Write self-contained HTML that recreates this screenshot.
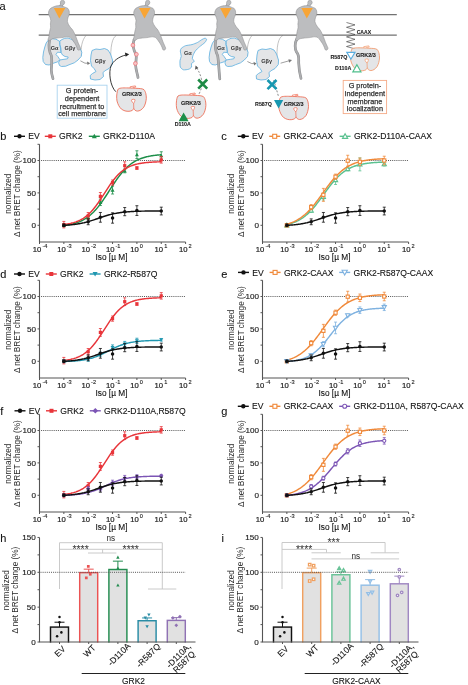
<!DOCTYPE html><html><head><meta charset="utf-8"><style>html,body{margin:0;padding:0;background:#fff;width:468px;height:685px;overflow:hidden}svg{display:block;will-change:transform;filter:blur(0.25px)}</style></head><body><svg width="468" height="685" viewBox="0 0 468 685" font-family='"Liberation Sans", sans-serif'><rect width="468" height="685" fill="#fff"/><text x="-0.4" y="9.9" font-size="11" text-anchor="start" fill="#111" stroke="#111" stroke-width="0.05" font-weight="normal" >a</text><path d="M86 35.5C82 40 80.5 48 81.2 56" fill="none" stroke="#9a9a9a" stroke-width="0.6"/><path d="M116.4 35.3C112 38 110.5 46 110.6 62" fill="none" stroke="#9a9a9a" stroke-width="0.6"/><path d="M252 35.5C248 40 246.8 48 247.4 56" fill="none" stroke="#9a9a9a" stroke-width="0.6"/><path d="M283 35.3C278 38 276.5 46 277 62" fill="none" stroke="#9a9a9a" stroke-width="0.6"/><path d="M48.7 39.6L52 38.6L56 39.2L59.9 41.5L59.5 44.5L60.5 48L61 52.5L57.5 52.2L56 54.5L57.8 56.5L59.8 59.5L57.8 61.8L54 63L49 65L45.5 64.5L43.2 61.5L42.8 57.5L43.5 52L44.8 47L46.2 43Z" fill="#e4e5e7" stroke="#5aaee0" stroke-width="0.8" stroke-linejoin="round"/><path d="M59.8 41L62 39.5L64.7 38.3L68 38L72 39.5L76 43L79.7 47.9L81.8 52.2L81.2 56.5L78 60L74.3 62.8L69 64.8L65.8 66.2L61.5 66.5L59.5 65.5L58.6 62.8L59.8 60L64 59.3L67.5 58.8L68.2 57L65 56.5L62.5 55L61.3 52.8L60.8 48L60 44.5Z" fill="#e4e5e7" stroke="#5aaee0" stroke-width="0.8" stroke-linejoin="round"/><path d="M215 39.6L218.3 38.6L222.3 39.2L226.2 41.5L225.8 44.5L226.8 48L227.3 52.5L223.8 52.2L222.3 54.5L224.1 56.5L226.1 59.5L224.1 61.8L220.3 63L215.3 65L211.8 64.5L209.5 61.5L209.1 57.5L209.8 52L211.1 47L212.5 43Z" fill="#e4e5e7" stroke="#5aaee0" stroke-width="0.8" stroke-linejoin="round"/><path d="M226.1 41L228.3 39.5L231 38.3L234.3 38L238.3 39.5L242.3 43L246 47.9L248.1 52.2L247.5 56.5L244.3 60L240.6 62.8L235.3 64.8L232.1 66.2L227.8 66.5L225.8 65.5L224.9 62.8L226.1 60L230.3 59.3L233.8 58.8L234.5 57L231.3 56.5L228.8 55L227.6 52.8L227.1 48L226.3 44.5Z" fill="#e4e5e7" stroke="#5aaee0" stroke-width="0.8" stroke-linejoin="round"/><path d="M92 50.5L96 49L100 49.5L104.5 48.5L108 50L110.5 54L112.5 60L112.3 64.5L109 68.5L104.5 71L103 72.8L103.5 76.5L100 79.5L95 80L90.5 79L90.2 75.5L92.5 73.5L96 71.5L94 68.5L91.5 66L90.5 60.5L91 55Z" fill="#e4e5e7" stroke="#5aaee0" stroke-width="0.8" stroke-linejoin="round"/><path d="M258 50.5L262 49L266 49.5L270.5 48.5L274 50L276.5 54L278.5 60L278.3 64.5L275 68.5L270.5 71L269 72.8L269.5 76.5L266 79.5L261 80L256.5 79L256.2 75.5L258.5 73.5L262 71.5L260 68.5L257.5 66L256.5 60.5L257 55Z" fill="#e4e5e7" stroke="#5aaee0" stroke-width="0.8" stroke-linejoin="round"/><path d="M180.3 51C180.32 50.04 180.78 48.82 181.4 48.2C182.02 47.58 184.36 46.12 185.6 45.7C186.84 45.28 190.62 44.97 192 44.6C193.38 44.23 196.27 43.07 197.4 42.5C198.53 41.93 200.82 40.2 201.7 39.7C202.57 39.2 204.33 38.25 204.9 38.2C205.47 38.15 206.6 38.8 206.6 39.3C206.6 39.8 205.73 41.62 204.9 42.5C204.07 43.38 200.62 45.81 199.5 46.8C198.38 47.79 196.05 50.01 195.3 51C194.55 51.99 193.44 54.42 193.1 55.3C192.76 56.17 192.27 57.79 192.4 58.5C192.53 59.21 194.32 60.8 194.2 61.4C194.08 61.99 191.7 62.95 191.4 63.6C191.1 64.25 191.9 66.35 191.6 67C191.3 67.65 189.75 68.87 188.8 69.2C187.86 69.53 184.49 70.06 183.5 69.8C182.51 69.54 180.71 68.07 180.3 67C179.89 65.93 179.9 61.84 180 60.6C180.1 59.36 181.16 57.52 181.2 56.4C181.23 55.28 180.28 51.96 180.3 51Z" fill="#e4e5e7" stroke="#5aaee0" stroke-width="0.8" stroke-linejoin="round"/><path d="M38.7 14.6H396.8M38.7 35H396.8" stroke="#727272" stroke-width="1.25"/><path d="M49.5 40.5C48.5 46 49.5 52 51.3 55.5C52.3 60 51.4 66 51.3 70C51.5 74 52.5 77 53 78.7" fill="none" stroke="#8d8e90" stroke-width="2.7" stroke-linecap="round"/><path d="M49.5 40.5C48.5 46 49.5 52 51.3 55.5C52.3 60 51.4 66 51.3 70C51.5 74 52.5 77 53 78.7" fill="none" stroke="#adaeb0" stroke-width="1.7" stroke-linecap="round"/><path d="M60.7 6.8L62.4 2.7" stroke="#8d8e90" stroke-width="3.3" stroke-linecap="round"/><circle cx="62.5" cy="2.5" r="2.2" fill="#bcbdbf" stroke="#8d8e90" stroke-width="0.5"/><path d="M60.7 6.8L62.4 2.7" stroke="#bcbdbf" stroke-width="2.4" stroke-linecap="round"/><path d="M60.2 5.6C59.23 5.55 56.93 5.77 55.9 6C54.87 6.23 53.3 6.9 52.5 7.3C51.7 7.7 50.42 8.37 49.9 9C49.38 9.63 48.76 11.27 48.6 12C48.44 12.73 48.53 13.82 48.7 14.5C48.87 15.18 49.62 16.3 49.9 17.1C50.18 17.9 50.73 19.59 50.8 20.5C50.87 21.41 50.43 22.98 50.4 23.9C50.37 24.82 50.71 26.36 50.6 27.4C50.49 28.44 49.83 30.49 49.6 31.7C49.37 32.91 49.11 35.39 48.9 36.5C48.69 37.61 47.88 39.45 48 40C48.12 40.55 49.23 40.76 49.8 40.6C50.37 40.44 51.33 39.15 52.3 38.8C53.27 38.45 55.82 38.16 57.1 38C58.38 37.84 60.55 37.76 61.9 37.6C63.25 37.44 66.07 36.8 67.2 36.8C68.33 36.8 69.65 37.12 70.4 37.6C71.15 38.08 72.17 39.57 72.8 40.4C73.43 41.23 74.57 42.89 75.1 43.8C75.63 44.71 76.47 46.43 76.8 47.2C77.13 47.97 77.25 49.21 77.6 49.6C77.95 49.99 79.01 50.27 79.4 50.1C79.79 49.93 80.45 48.79 80.5 48.3C80.55 47.81 80.12 47.16 79.8 46.4C79.48 45.64 78.65 43.96 78.1 42.6C77.55 41.24 76.38 37.81 75.7 36.2C75.02 34.59 73.68 31.65 73 30.5C72.32 29.35 71.17 28.36 70.6 27.6C70.03 26.84 69.13 25.63 68.7 24.8C68.27 23.97 67.51 22.32 67.4 21.4C67.29 20.48 67.66 18.82 67.9 17.9C68.14 16.98 69.03 15.41 69.2 14.5C69.37 13.59 69.37 11.9 69.2 11.1C69.03 10.3 68.3 8.95 67.9 8.5C67.5 8.05 66.83 7.98 66.2 7.7C65.57 7.42 64 6.68 63.2 6.4C62.4 6.12 61.17 5.65 60.2 5.6Z" fill="#bcbdbf" stroke="#8d8e90" stroke-width="0.55" stroke-linejoin="round"/><path d="M53.8 8.1L65.3 8.1L59.3 18.4Z" fill="#f8a535"/><path d="M134 40C132.2 45 133.5 50 136 54.5C137 58 135.8 61 135.6 65C135.8 70 137.5 74 138 77.5" fill="none" stroke="#8d8e90" stroke-width="2.7" stroke-linecap="round"/><path d="M134 40C132.2 45 133.5 50 136 54.5C137 58 135.8 61 135.6 65C135.8 70 137.5 74 138 77.5" fill="none" stroke="#adaeb0" stroke-width="1.7" stroke-linecap="round"/><path d="M145.9 6.8L147.6 2.7" stroke="#8d8e90" stroke-width="3.3" stroke-linecap="round"/><circle cx="147.7" cy="2.5" r="2.2" fill="#bcbdbf" stroke="#8d8e90" stroke-width="0.5"/><path d="M145.9 6.8L147.6 2.7" stroke="#bcbdbf" stroke-width="2.4" stroke-linecap="round"/><path d="M145.4 5.6C144.43 5.55 142.13 5.77 141.1 6C140.07 6.23 138.5 6.9 137.7 7.3C136.9 7.7 135.62 8.37 135.1 9C134.58 9.63 133.96 11.27 133.8 12C133.64 12.73 133.73 13.82 133.9 14.5C134.07 15.18 134.82 16.3 135.1 17.1C135.38 17.9 135.93 19.59 136 20.5C136.07 21.41 135.63 22.98 135.6 23.9C135.57 24.82 135.91 26.36 135.8 27.4C135.69 28.44 135.03 30.49 134.8 31.7C134.57 32.91 134.31 35.39 134.1 36.5C133.89 37.61 133.08 39.45 133.2 40C133.32 40.55 134.43 40.76 135 40.6C135.57 40.44 136.53 39.15 137.5 38.8C138.47 38.45 141.02 38.16 142.3 38C143.58 37.84 145.75 37.76 147.1 37.6C148.45 37.44 151.27 36.8 152.4 36.8C153.53 36.8 154.85 37.12 155.6 37.6C156.35 38.08 157.37 39.57 158 40.4C158.63 41.23 159.77 42.89 160.3 43.8C160.83 44.71 161.67 46.43 162 47.2C162.33 47.97 162.45 49.21 162.8 49.6C163.15 49.99 164.21 50.27 164.6 50.1C164.99 49.93 165.65 48.79 165.7 48.3C165.75 47.81 165.32 47.16 165 46.4C164.68 45.64 163.85 43.96 163.3 42.6C162.75 41.24 161.58 37.81 160.9 36.2C160.22 34.59 158.88 31.65 158.2 30.5C157.52 29.35 156.37 28.36 155.8 27.6C155.23 26.84 154.33 25.63 153.9 24.8C153.47 23.97 152.71 22.32 152.6 21.4C152.49 20.48 152.86 18.82 153.1 17.9C153.34 16.98 154.23 15.41 154.4 14.5C154.57 13.59 154.57 11.9 154.4 11.1C154.23 10.3 153.5 8.95 153.1 8.5C152.7 8.05 152.03 7.98 151.4 7.7C150.77 7.42 149.2 6.68 148.4 6.4C147.6 6.12 146.37 5.65 145.4 5.6Z" fill="#bcbdbf" stroke="#8d8e90" stroke-width="0.55" stroke-linejoin="round"/><path d="M139 8.1L150.5 8.1L144.5 18.4Z" fill="#f8a535"/><path d="M215.8 40.5C214.8 46 215.8 52 217.6 55.5C218.6 60 219 72 219.8 78.8" fill="none" stroke="#8d8e90" stroke-width="2.7" stroke-linecap="round"/><path d="M215.8 40.5C214.8 46 215.8 52 217.6 55.5C218.6 60 219 72 219.8 78.8" fill="none" stroke="#adaeb0" stroke-width="1.7" stroke-linecap="round"/><path d="M227 6.8L228.7 2.7" stroke="#8d8e90" stroke-width="3.3" stroke-linecap="round"/><circle cx="228.8" cy="2.5" r="2.2" fill="#bcbdbf" stroke="#8d8e90" stroke-width="0.5"/><path d="M227 6.8L228.7 2.7" stroke="#bcbdbf" stroke-width="2.4" stroke-linecap="round"/><path d="M226.5 5.6C225.53 5.55 223.23 5.77 222.2 6C221.17 6.23 219.6 6.9 218.8 7.3C218 7.7 216.72 8.37 216.2 9C215.68 9.63 215.06 11.27 214.9 12C214.74 12.73 214.83 13.82 215 14.5C215.17 15.18 215.92 16.3 216.2 17.1C216.48 17.9 217.03 19.59 217.1 20.5C217.17 21.41 216.73 22.98 216.7 23.9C216.67 24.82 217.01 26.36 216.9 27.4C216.79 28.44 216.13 30.49 215.9 31.7C215.67 32.91 215.41 35.39 215.2 36.5C214.99 37.61 214.18 39.45 214.3 40C214.42 40.55 215.53 40.76 216.1 40.6C216.67 40.44 217.63 39.15 218.6 38.8C219.57 38.45 222.12 38.16 223.4 38C224.68 37.84 226.85 37.76 228.2 37.6C229.55 37.44 232.37 36.8 233.5 36.8C234.63 36.8 235.95 37.12 236.7 37.6C237.45 38.08 238.47 39.57 239.1 40.4C239.73 41.23 240.87 42.89 241.4 43.8C241.93 44.71 242.77 46.43 243.1 47.2C243.43 47.97 243.55 49.21 243.9 49.6C244.25 49.99 245.31 50.27 245.7 50.1C246.09 49.93 246.75 48.79 246.8 48.3C246.85 47.81 246.42 47.16 246.1 46.4C245.78 45.64 244.95 43.96 244.4 42.6C243.85 41.24 242.68 37.81 242 36.2C241.32 34.59 239.98 31.65 239.3 30.5C238.62 29.35 237.47 28.36 236.9 27.6C236.33 26.84 235.43 25.63 235 24.8C234.57 23.97 233.81 22.32 233.7 21.4C233.59 20.48 233.96 18.82 234.2 17.9C234.44 16.98 235.33 15.41 235.5 14.5C235.67 13.59 235.67 11.9 235.5 11.1C235.33 10.3 234.6 8.95 234.2 8.5C233.8 8.05 233.13 7.98 232.5 7.7C231.87 7.42 230.3 6.68 229.5 6.4C228.7 6.12 227.47 5.65 226.5 5.6Z" fill="#bcbdbf" stroke="#8d8e90" stroke-width="0.55" stroke-linejoin="round"/><path d="M220.1 8.1L231.6 8.1L225.6 18.4Z" fill="#f8a535"/><path d="M296.6 39.5C294.6 43 294.8 49 296.5 52C299.5 55 298.6 59 298.7 63C298.9 69 299.8 74 301 78.4" fill="none" stroke="#8d8e90" stroke-width="2.7" stroke-linecap="round"/><path d="M296.6 39.5C294.6 43 294.8 49 296.5 52C299.5 55 298.6 59 298.7 63C298.9 69 299.8 74 301 78.4" fill="none" stroke="#adaeb0" stroke-width="1.7" stroke-linecap="round"/><path d="M308.2 6.8L309.9 2.7" stroke="#8d8e90" stroke-width="3.3" stroke-linecap="round"/><circle cx="310" cy="2.5" r="2.2" fill="#bcbdbf" stroke="#8d8e90" stroke-width="0.5"/><path d="M308.2 6.8L309.9 2.7" stroke="#bcbdbf" stroke-width="2.4" stroke-linecap="round"/><path d="M307.7 5.6C306.73 5.55 304.43 5.77 303.4 6C302.37 6.23 300.8 6.9 300 7.3C299.2 7.7 297.92 8.37 297.4 9C296.88 9.63 296.26 11.27 296.1 12C295.94 12.73 296.03 13.82 296.2 14.5C296.37 15.18 297.12 16.3 297.4 17.1C297.68 17.9 298.23 19.59 298.3 20.5C298.37 21.41 297.93 22.98 297.9 23.9C297.87 24.82 298.21 26.36 298.1 27.4C297.99 28.44 297.33 30.49 297.1 31.7C296.87 32.91 296.61 35.39 296.4 36.5C296.19 37.61 295.38 39.45 295.5 40C295.62 40.55 296.73 40.76 297.3 40.6C297.87 40.44 298.83 39.15 299.8 38.8C300.77 38.45 303.32 38.16 304.6 38C305.88 37.84 308.05 37.76 309.4 37.6C310.75 37.44 313.57 36.8 314.7 36.8C315.83 36.8 317.15 37.12 317.9 37.6C318.65 38.08 319.67 39.57 320.3 40.4C320.93 41.23 322.07 42.89 322.6 43.8C323.13 44.71 323.97 46.43 324.3 47.2C324.63 47.97 324.75 49.21 325.1 49.6C325.45 49.99 326.51 50.27 326.9 50.1C327.29 49.93 327.95 48.79 328 48.3C328.05 47.81 327.62 47.16 327.3 46.4C326.98 45.64 326.15 43.96 325.6 42.6C325.05 41.24 323.88 37.81 323.2 36.2C322.52 34.59 321.18 31.65 320.5 30.5C319.82 29.35 318.67 28.36 318.1 27.6C317.53 26.84 316.63 25.63 316.2 24.8C315.77 23.97 315.01 22.32 314.9 21.4C314.79 20.48 315.16 18.82 315.4 17.9C315.64 16.98 316.53 15.41 316.7 14.5C316.87 13.59 316.87 11.9 316.7 11.1C316.53 10.3 315.8 8.95 315.4 8.5C315 8.05 314.33 7.98 313.7 7.7C313.07 7.42 311.5 6.68 310.7 6.4C309.9 6.12 308.67 5.65 307.7 5.6Z" fill="#bcbdbf" stroke="#8d8e90" stroke-width="0.55" stroke-linejoin="round"/><path d="M301.3 8.1L312.8 8.1L306.8 18.4Z" fill="#f8a535"/><circle cx="132.9" cy="45.2" r="1.9" fill="#f7c5c5" stroke="#ee6f75" stroke-width="0.7"/><circle cx="136.4" cy="54.3" r="1.9" fill="#f7c5c5" stroke="#ee6f75" stroke-width="0.7"/><circle cx="135.4" cy="63.5" r="1.9" fill="#f7c5c5" stroke="#ee6f75" stroke-width="0.7"/><text x="54.6" y="49.9" font-size="5.6" text-anchor="middle" fill="#333" stroke="#333" stroke-width="0" font-weight="bold" >G&#945;</text><text x="70" y="49.9" font-size="5.6" text-anchor="middle" fill="#333" stroke="#333" stroke-width="0" font-weight="bold" >G&#946;&#947;</text><text x="220.9" y="49.9" font-size="5.6" text-anchor="middle" fill="#333" stroke="#333" stroke-width="0" font-weight="bold" >G&#945;</text><text x="236.3" y="49.9" font-size="5.6" text-anchor="middle" fill="#333" stroke="#333" stroke-width="0" font-weight="bold" >G&#946;&#947;</text><text x="100.2" y="62.8" font-size="5.6" text-anchor="middle" fill="#333" stroke="#333" stroke-width="0" font-weight="bold" >G&#946;&#947;</text><text x="266.7" y="62.6" font-size="5.6" text-anchor="middle" fill="#333" stroke="#333" stroke-width="0" font-weight="bold" >G&#946;&#947;</text><text x="187.8" y="55.2" font-size="5.6" text-anchor="middle" fill="#333" stroke="#333" stroke-width="0" font-weight="bold" >G&#945;</text><path d="M80.4 60.8Q84.95 64.3 89.5 63.3" fill="none" stroke="#777" stroke-width="0.7"/><path d="M90 63.3l-3 -1.8l0.6 3.6z" fill="#777"/><path d="M247.4 61.5Q251.7 64.6 256 63.6" fill="none" stroke="#777" stroke-width="0.7"/><path d="M256.5 63.6l-3 -1.8l0.6 3.6z" fill="#777"/><path d="M280.6 63.2L289 60.8" fill="none" stroke="#777" stroke-width="0.7"/><path d="M292 60l-3.6 -0.8l0.8 3.6z" fill="#777"/><path d="M115.8 91.7C110 86 108.5 72 111 66C113 61 119 56.5 126 55" fill="none" stroke="#222" stroke-width="0.9"/><path d="M129.2 54.2l-4.3 -1.6l0.8 4.2z" fill="#222"/><path d="M118.4 88.9C119 88.4 120.35 88.14 121.5 88C122.65 87.86 125.27 87.9 126.5 87.9C127.73 87.9 128.92 87.94 130.2 88C131.47 88.06 134.04 88.22 135.5 88.3C136.96 88.38 139.3 88.4 140.5 88.6C141.7 88.8 143.25 89.01 144 89.7C144.75 90.39 145.47 92.28 145.8 93.5C146.13 94.72 146.34 96.95 146.3 98.3C146.26 99.65 145.85 101.75 145.5 103C145.15 104.25 144.48 106.09 143.8 107.1C143.12 108.11 141.59 109.53 140.7 110.1C139.81 110.67 138.29 111.07 137.5 111.1C136.71 111.13 135.62 110.67 135.1 110.3C134.58 109.93 134.2 108.49 133.8 108.5C133.4 108.51 132.98 110 132.3 110.4C131.62 110.8 130.03 111.23 129 111.3C127.97 111.37 126.09 111.23 125 110.9C123.91 110.57 122.19 109.77 121.3 109C120.41 108.23 119.31 106.63 118.7 105.5C118.09 104.37 117.28 102.35 117 101C116.72 99.65 116.66 97.35 116.7 96C116.74 94.65 117.06 92.51 117.3 91.5C117.54 90.49 117.81 89.4 118.4 88.9Z" fill="#e4e5e7" stroke="#ef6a52" stroke-width="0.85" stroke-linejoin="round"/><path d="M133.6 103.5C132 102 130.9 100.1 131.8 99.6C132.7 99.2 134.1 99.1 134.8 99.5C135.4 100.1 134.5 102 133.6 103.5Z" fill="#fff" stroke="#ef6a52" stroke-width="0.7" stroke-linejoin="round"/><path d="M133.6 103.5L133.8 108.7" stroke="#ef6a52" stroke-width="0.7"/><path d="M130.2 87.9L130.2 86.7L135.4 85.9L135.8 87.1L132.7 87.5" fill="none" stroke="#ef6a52" stroke-width="0.7" stroke-linejoin="round"/><path d="M178 96C178.59 95.5 179.95 95.24 181.1 95.1C182.25 94.96 184.87 95 186.1 95C187.33 95 188.52 95.04 189.8 95.1C191.07 95.16 193.64 95.31 195.1 95.4C196.56 95.48 198.9 95.5 200.1 95.7C201.3 95.9 202.85 96.11 203.6 96.8C204.35 97.49 205.07 99.38 205.4 100.6C205.73 101.82 205.94 104.05 205.9 105.4C205.86 106.75 205.45 108.85 205.1 110.1C204.75 111.35 204.08 113.19 203.4 114.2C202.72 115.21 201.19 116.63 200.3 117.2C199.41 117.77 197.89 118.17 197.1 118.2C196.31 118.23 195.22 117.77 194.7 117.4C194.18 117.03 193.8 115.59 193.4 115.6C193 115.61 192.58 117.1 191.9 117.5C191.22 117.9 189.63 118.33 188.6 118.4C187.57 118.47 185.69 118.33 184.6 118C183.51 117.67 181.79 116.86 180.9 116.1C180.01 115.33 178.91 113.73 178.3 112.6C177.69 111.47 176.88 109.45 176.6 108.1C176.32 106.75 176.26 104.45 176.3 103.1C176.34 101.75 176.66 99.61 176.9 98.6C177.14 97.59 177.41 96.5 178 96Z" fill="#e4e5e7" stroke="#ef6a52" stroke-width="0.85" stroke-linejoin="round"/><path d="M193.2 110.6C191.6 109.1 190.5 107.2 191.4 106.7C192.3 106.3 193.7 106.2 194.4 106.6C195 107.2 194.1 109.1 193.2 110.6Z" fill="#fff" stroke="#ef6a52" stroke-width="0.7" stroke-linejoin="round"/><path d="M193.2 110.6L193.4 115.8" stroke="#ef6a52" stroke-width="0.7"/><path d="M189.8 95L189.8 93.8L195 93L195.4 94.2L192.3 94.6" fill="none" stroke="#ef6a52" stroke-width="0.7" stroke-linejoin="round"/><path d="M280.6 97.3C281.19 96.8 282.55 96.54 283.7 96.4C284.85 96.26 287.47 96.3 288.7 96.3C289.93 96.3 291.12 96.34 292.4 96.4C293.67 96.46 296.24 96.62 297.7 96.7C299.16 96.78 301.5 96.8 302.7 97C303.9 97.2 305.45 97.41 306.2 98.1C306.95 98.79 307.67 100.68 308 101.9C308.33 103.12 308.54 105.35 308.5 106.7C308.46 108.05 308.05 110.15 307.7 111.4C307.35 112.65 306.68 114.49 306 115.5C305.32 116.51 303.79 117.93 302.9 118.5C302.01 119.07 300.49 119.47 299.7 119.5C298.91 119.53 297.82 119.07 297.3 118.7C296.78 118.33 296.4 116.89 296 116.9C295.6 116.91 295.18 118.4 294.5 118.8C293.82 119.2 292.23 119.63 291.2 119.7C290.17 119.77 288.29 119.63 287.2 119.3C286.11 118.97 284.39 118.17 283.5 117.4C282.61 116.64 281.51 115.03 280.9 113.9C280.29 112.77 279.48 110.75 279.2 109.4C278.92 108.05 278.86 105.75 278.9 104.4C278.94 103.05 279.26 100.91 279.5 99.9C279.74 98.89 280 97.8 280.6 97.3Z" fill="#e4e5e7" stroke="#ef6a52" stroke-width="0.85" stroke-linejoin="round"/><path d="M295.8 111.9C294.2 110.4 293.1 108.5 294 108C294.9 107.6 296.3 107.5 297 107.9C297.6 108.5 296.7 110.4 295.8 111.9Z" fill="#fff" stroke="#ef6a52" stroke-width="0.7" stroke-linejoin="round"/><path d="M295.8 111.9L296 117.1" stroke="#ef6a52" stroke-width="0.7"/><path d="M292.4 96.3L292.4 95.1L297.6 94.3L298 95.5L294.9 95.9" fill="none" stroke="#ef6a52" stroke-width="0.7" stroke-linejoin="round"/><path d="M346.5 22.5L355 24.9L346.5 27.3L355 29.7L346.5 32.1L355 34.5L346.5 36.9L355 39.3L346.5 41.7L355 44.1L346.5 46.5L355 48.9" fill="none" stroke="#333" stroke-width="0.6"/><path d="M352.16 48.81C352.75 48.33 354.08 48.07 355.2 47.93C356.32 47.79 358.89 47.83 360.1 47.83C361.31 47.83 362.48 47.87 363.73 47.93C364.98 47.99 367.49 48.14 368.92 48.22C370.35 48.31 372.64 48.32 373.82 48.52C375 48.71 376.51 48.92 377.25 49.6C377.99 50.28 378.69 52.13 379.01 53.32C379.33 54.51 379.55 56.71 379.5 58.02C379.46 59.34 379.07 61.41 378.72 62.63C378.37 63.85 377.72 65.66 377.05 66.65C376.39 67.63 374.89 69.03 374.02 69.59C373.14 70.14 371.66 70.54 370.88 70.57C370.1 70.6 369.04 70.14 368.53 69.78C368.01 69.42 367.64 68.01 367.25 68.02C366.87 68.03 366.45 69.49 365.78 69.88C365.12 70.27 363.56 70.69 362.55 70.76C361.54 70.83 359.7 70.69 358.63 70.37C357.56 70.05 355.88 69.26 355 68.51C354.13 67.76 353.05 66.19 352.46 65.08C351.86 63.97 351.07 61.99 350.79 60.67C350.51 59.35 350.45 57.09 350.5 55.77C350.54 54.45 350.85 52.35 351.08 51.36C351.32 50.37 351.58 49.3 352.16 48.81Z" fill="#e4e5e7" stroke="#f2986a" stroke-width="0.85" stroke-linejoin="round"/><path d="M367.06 63.12C365.49 61.65 364.41 59.79 365.29 59.3C366.18 58.91 367.55 58.81 368.23 59.2C368.82 59.79 367.94 61.65 367.06 63.12Z" fill="#fff" stroke="#f2986a" stroke-width="0.7" stroke-linejoin="round"/><path d="M367.06 63.12L367.25 68.22" stroke="#f2986a" stroke-width="0.7"/><path d="M363.73 47.83L363.73 46.66L368.82 45.87L369.21 47.05L366.18 47.44" fill="none" stroke="#f2986a" stroke-width="0.7" stroke-linejoin="round"/><path d="M199.1 93.8Q203 86 201.7 80Q200 73 196.8 68" fill="none" stroke="#555" stroke-width="0.7" stroke-dasharray="2 1.6"/><path d="M195.6 65.6l-0.6 4.2l3.4 -1.8z" fill="#555"/><path d="M273.8 80L278.5 96.5" fill="none" stroke="#555" stroke-width="0.7" stroke-dasharray="2 1.6"/><path d="M198.2 79.5L207.2 88.6M207.2 79.5L198.2 88.6" stroke="#1d8a45" stroke-width="2.6"/><path d="M267.5 80L276.5 89.2M276.5 80L267.5 89.2" stroke="#1797b0" stroke-width="2.6"/><path d="M183.6 112.6L188.6 121.2L178.6 121.2Z" fill="#1e8f4a"/><text x="182.8" y="126.3" font-size="5.3" text-anchor="middle" fill="#222" stroke="#222" stroke-width="0.1" font-weight="bold" >D110A</text><path d="M274 99.9L283.2 99.9L278.6 108.4Z" fill="#1797b0"/><text x="263.5" y="106.4" font-size="5.3" text-anchor="middle" fill="#222" stroke="#222" stroke-width="0.1" font-weight="bold" >R587Q</text><path d="M346.8 52.4L355 52.4L350.9 59.2Z" fill="#fff" stroke="#5aaee0" stroke-width="1.2"/><text x="338.9" y="58.9" font-size="5.3" text-anchor="middle" fill="#222" stroke="#222" stroke-width="0.1" font-weight="bold" >R587Q</text><path d="M356.9 64.8L360.9 71.8L352.9 71.8Z" fill="#fff" stroke="#4fbf8c" stroke-width="1.2"/><text x="343.2" y="69.7" font-size="5.3" text-anchor="middle" fill="#222" stroke="#222" stroke-width="0.1" font-weight="bold" >D110A</text><text x="363.9" y="33.9" font-size="5.1" text-anchor="middle" fill="#222" stroke="#222" stroke-width="0.1" font-weight="bold" >CAAX</text><text x="132" y="96.3" font-size="5.5" text-anchor="middle" fill="#222" stroke="#222" stroke-width="0.1" font-weight="bold" >GRK2/3</text><text x="191" y="105.4" font-size="5.5" text-anchor="middle" fill="#222" stroke="#222" stroke-width="0.1" font-weight="bold" >GRK2/3</text><text x="293.6" y="105.8" font-size="5.5" text-anchor="middle" fill="#222" stroke="#222" stroke-width="0.1" font-weight="bold" >GRK2/3</text><text x="365.9" y="57.2" font-size="5.5" text-anchor="middle" fill="#222" stroke="#222" stroke-width="0.1" font-weight="bold" >GRK2/3</text><rect x="57.2" y="85.2" width="49.8" height="33" fill="#fff" stroke="#a9d3ef" stroke-width="0.9"/><text x="82.1" y="93.1" font-size="7.3" text-anchor="middle" fill="#333" stroke="#333" stroke-width="0.25" font-weight="normal" >G protein-</text><text x="82.1" y="100.85" font-size="7.3" text-anchor="middle" fill="#333" stroke="#333" stroke-width="0.25" font-weight="normal" >dependent</text><text x="82.1" y="108.6" font-size="7.3" text-anchor="middle" fill="#333" stroke="#333" stroke-width="0.25" font-weight="normal" >recruitment to</text><text x="82.1" y="116.35" font-size="7.3" text-anchor="middle" fill="#333" stroke="#333" stroke-width="0.25" font-weight="normal" >cell membrane</text><rect x="343.2" y="80.4" width="43.4" height="33.2" fill="#fff" stroke="#f5ab88" stroke-width="0.9"/><text x="364.9" y="88" font-size="7.3" text-anchor="middle" fill="#333" stroke="#333" stroke-width="0.25" font-weight="normal" >G protein-</text><text x="364.9" y="95.8" font-size="7.3" text-anchor="middle" fill="#333" stroke="#333" stroke-width="0.25" font-weight="normal" >independent</text><text x="364.9" y="103.6" font-size="7.3" text-anchor="middle" fill="#333" stroke="#333" stroke-width="0.25" font-weight="normal" >membrane</text><text x="364.9" y="111.4" font-size="7.3" text-anchor="middle" fill="#333" stroke="#333" stroke-width="0.25" font-weight="normal" >localization</text><text x="0.2" y="140.4" font-size="11" text-anchor="start" fill="#111" stroke="#111" stroke-width="0.1" font-weight="normal" >b</text><path d="M39.5 144.3V242H185.6" fill="none" stroke="#555" stroke-width="1.1"/><path d="M37.5 144.3H39.5" stroke="#555" stroke-width="1"/><path d="M37.5 160.5H39.5" stroke="#555" stroke-width="1"/><path d="M37.5 176.7H39.5" stroke="#555" stroke-width="1"/><path d="M37.5 192.9H39.5" stroke="#555" stroke-width="1"/><path d="M37.5 209.1H39.5" stroke="#555" stroke-width="1"/><path d="M37.5 225.3H39.5" stroke="#555" stroke-width="1"/><text x="36.1" y="163.4" font-size="8.1" text-anchor="end" fill="#222" stroke="#222" stroke-width="0.15" font-weight="normal" >100</text><text x="36.1" y="195.8" font-size="8.1" text-anchor="end" fill="#222" stroke="#222" stroke-width="0.15" font-weight="normal" >50</text><text x="36.1" y="228.2" font-size="8.1" text-anchor="end" fill="#222" stroke="#222" stroke-width="0.15" font-weight="normal" >0</text><path d="M39.5 242V244" stroke="#555" stroke-width="1"/><text x="41.4" y="251.7" font-size="7.7" fill="#222" stroke="#222" stroke-width="0.2" text-anchor="end">10</text><text x="42.4" y="248.4" font-size="5.6" fill="#222" stroke="#222" stroke-width="0.12">-4</text><path d="M63.85 242V244" stroke="#555" stroke-width="1"/><text x="65.75" y="251.7" font-size="7.7" fill="#222" stroke="#222" stroke-width="0.2" text-anchor="end">10</text><text x="66.75" y="248.4" font-size="5.6" fill="#222" stroke="#222" stroke-width="0.12">-3</text><path d="M88.2 242V244" stroke="#555" stroke-width="1"/><text x="90.1" y="251.7" font-size="7.7" fill="#222" stroke="#222" stroke-width="0.2" text-anchor="end">10</text><text x="91.1" y="248.4" font-size="5.6" fill="#222" stroke="#222" stroke-width="0.12">-2</text><path d="M112.55 242V244" stroke="#555" stroke-width="1"/><text x="114.45" y="251.7" font-size="7.7" fill="#222" stroke="#222" stroke-width="0.2" text-anchor="end">10</text><text x="115.45" y="248.4" font-size="5.6" fill="#222" stroke="#222" stroke-width="0.12">-1</text><path d="M136.9 242V244" stroke="#555" stroke-width="1"/><text x="138.8" y="251.7" font-size="7.7" fill="#222" stroke="#222" stroke-width="0.2" text-anchor="end">10</text><text x="139.8" y="248.4" font-size="5.6" fill="#222" stroke="#222" stroke-width="0.12">0</text><path d="M161.25 242V244" stroke="#555" stroke-width="1"/><text x="163.15" y="251.7" font-size="7.7" fill="#222" stroke="#222" stroke-width="0.2" text-anchor="end">10</text><text x="164.15" y="248.4" font-size="5.6" fill="#222" stroke="#222" stroke-width="0.12">1</text><path d="M185.6 242V244" stroke="#555" stroke-width="1"/><text x="187.5" y="251.7" font-size="7.7" fill="#222" stroke="#222" stroke-width="0.2" text-anchor="end">10</text><text x="188.5" y="248.4" font-size="5.6" fill="#222" stroke="#222" stroke-width="0.12">2</text><text x="111.5" y="259.5" font-size="8.3" text-anchor="middle" fill="#111" stroke="#111" stroke-width="0.1" font-weight="normal" >Iso [&#181; M]</text><text transform="translate(11.2 193.7) rotate(-90)" font-size="8.2" text-anchor="middle" fill="#2a2a2a">normalized</text><text transform="translate(20.4 193.7) rotate(-90)" font-size="8.2" text-anchor="middle" fill="#2a2a2a">&#916; net BRET change (%)</text><path d="M41.1 160.5H185.6" stroke="#555" stroke-width="1" stroke-dasharray="1 1.1"/><path d="M63.85 225.52L64.66 225.42L65.47 225.31L66.28 225.19L67.1 225.07L67.91 224.93L68.72 224.79L69.53 224.64L70.34 224.48L71.16 224.3L71.97 224.12L72.78 223.92L73.59 223.71L74.4 223.49L75.21 223.25L76.03 223L76.84 222.73L77.65 222.45L78.46 222.14L79.27 221.82L80.08 221.48L80.9 221.12L81.71 220.73L82.52 220.33L83.33 219.9L84.14 219.44L84.95 218.96L85.77 218.45L86.58 217.92L87.39 217.35L88.2 216.76L89.01 216.14L89.82 215.48L90.64 214.79L91.45 214.07L92.26 213.32L93.07 212.54L93.88 211.72L94.69 210.86L95.5 209.98L96.32 209.06L97.13 208.1L97.94 207.12L98.75 206.1L99.56 205.05L100.38 203.98L101.19 202.87L102 201.74L102.81 200.58L103.62 199.41L104.43 198.21L105.25 196.99L106.06 195.76L106.87 194.51L107.68 193.26L108.49 192L109.3 190.73L110.11 189.47L110.93 188.21L111.74 186.95L112.55 185.7L113.36 184.46L114.17 183.24L114.99 182.03L115.8 180.84L116.61 179.67L117.42 178.53L118.23 177.41L119.04 176.32L119.86 175.25L120.67 174.22L121.48 173.22L122.29 172.25L123.1 171.31L123.91 170.41L124.73 169.54L125.54 168.71L126.35 167.9L127.16 167.13L127.97 166.4L128.78 165.7L129.6 165.02L130.41 164.39L131.22 163.78L132.03 163.2L132.84 162.65L133.65 162.13L134.47 161.63L135.28 161.16L136.09 160.72L136.9 160.3L137.71 159.91L138.52 159.53L139.33 159.18L140.15 158.85L140.96 158.54L141.77 158.24L142.58 157.97L143.39 157.71L144.2 157.46L145.02 157.23L145.83 157.02L146.64 156.81L147.45 156.62L148.26 156.44L149.07 156.28L149.89 156.12L150.7 155.97L151.51 155.84L152.32 155.71L153.13 155.59L153.94 155.47L154.76 155.37L155.57 155.27L156.38 155.18L157.19 155.09L158 155.01L158.81 154.93L159.63 154.86L160.44 154.8L161.25 154.73" fill="none" stroke="#1e8f4a" stroke-width="1.45"/><path d="M63.85 224V226.6M62.35 224H65.35M62.35 226.6H65.35" stroke="#1e8f4a" stroke-width="0.8" fill="none"/><path d="M88.2 215.58V219.47M86.7 215.58H89.7M86.7 219.47H89.7" stroke="#1e8f4a" stroke-width="0.8" fill="none"/><path d="M100.38 199.06V205.54M98.88 199.06H101.88M98.88 205.54H101.88" stroke="#1e8f4a" stroke-width="0.8" fill="none"/><path d="M112.55 186.23V194M111.05 186.23H114.05M111.05 194H114.05" stroke="#1e8f4a" stroke-width="0.8" fill="none"/><path d="M124.73 168.92V172.81M123.23 168.92H126.23M123.23 172.81H126.23" stroke="#1e8f4a" stroke-width="0.8" fill="none"/><path d="M136.9 150.78V158.56M135.4 150.78H138.4M135.4 158.56H138.4" stroke="#1e8f4a" stroke-width="0.8" fill="none"/><path d="M161.25 151.75V159.53M159.75 151.75H162.75M159.75 159.53H162.75" stroke="#1e8f4a" stroke-width="0.8" fill="none"/><path d="M63.85 223.3L65.85 226.9L61.85 226.9Z" fill="#1e8f4a"/><path d="M88.2 215.52L90.2 219.12L86.2 219.12Z" fill="#1e8f4a"/><path d="M100.38 200.3L102.38 203.9L98.38 203.9Z" fill="#1e8f4a"/><path d="M112.55 188.11L114.55 191.71L110.55 191.71Z" fill="#1e8f4a"/><path d="M124.73 168.87L126.73 172.47L122.73 172.47Z" fill="#1e8f4a"/><path d="M136.9 152.67L138.9 156.27L134.9 156.27Z" fill="#1e8f4a"/><path d="M161.25 153.64L163.25 157.24L159.25 157.24Z" fill="#1e8f4a"/><path d="M63.85 224.47L64.66 224.37L65.47 224.26L66.28 224.15L67.1 224.02L67.91 223.89L68.72 223.74L69.53 223.59L70.34 223.42L71.16 223.24L71.97 223.04L72.78 222.83L73.59 222.61L74.4 222.36L75.21 222.1L76.03 221.83L76.84 221.53L77.65 221.21L78.46 220.87L79.27 220.5L80.08 220.11L80.9 219.69L81.71 219.25L82.52 218.77L83.33 218.27L84.14 217.73L84.95 217.17L85.77 216.56L86.58 215.93L87.39 215.26L88.2 214.55L89.01 213.8L89.82 213.02L90.64 212.19L91.45 211.33L92.26 210.43L93.07 209.49L93.88 208.52L94.69 207.51L95.5 206.46L96.32 205.38L97.13 204.27L97.94 203.13L98.75 201.96L99.56 200.77L100.38 199.55L101.19 198.32L102 197.08L102.81 195.82L103.62 194.56L104.43 193.29L105.25 192.03L106.06 190.77L106.87 189.52L107.68 188.28L108.49 187.06L109.3 185.85L110.11 184.67L110.93 183.52L111.74 182.39L112.55 181.3L113.36 180.24L114.17 179.21L114.99 178.21L115.8 177.26L116.61 176.34L117.42 175.46L118.23 174.62L119.04 173.82L119.86 173.05L120.67 172.33L121.48 171.64L122.29 170.98L123.1 170.36L123.91 169.78L124.73 169.23L125.54 168.71L126.35 168.22L127.16 167.76L127.97 167.33L128.78 166.93L129.6 166.55L130.41 166.2L131.22 165.87L132.03 165.56L132.84 165.27L133.65 165L134.47 164.75L135.28 164.52L136.09 164.3L136.9 164.1L137.71 163.91L138.52 163.74L139.33 163.58L140.15 163.43L140.96 163.29L141.77 163.16L142.58 163.04L143.39 162.92L144.2 162.82L145.02 162.72L145.83 162.64L146.64 162.55L147.45 162.48L148.26 162.41L149.07 162.34L149.89 162.28L150.7 162.22L151.51 162.17L152.32 162.12L153.13 162.08L153.94 162.04L154.76 162L155.57 161.96L156.38 161.93L157.19 161.9L158 161.87L158.81 161.85L159.63 161.82L160.44 161.8L161.25 161.78" fill="none" stroke="#e8353a" stroke-width="1.45"/><path d="M63.85 221.41V227.89M62.35 221.41H65.35M62.35 227.89H65.35" stroke="#e8353a" stroke-width="0.8" fill="none"/><path d="M88.2 212.53V219.01M86.7 212.53H89.7M86.7 219.01H89.7" stroke="#e8353a" stroke-width="0.8" fill="none"/><path d="M100.38 192.51V200.29M98.88 192.51H101.88M98.88 200.29H101.88" stroke="#e8353a" stroke-width="0.8" fill="none"/><path d="M112.55 180V185.19M111.05 180H114.05M111.05 185.19H114.05" stroke="#e8353a" stroke-width="0.8" fill="none"/><path d="M124.73 161.8V169.57M123.23 161.8H126.23M123.23 169.57H126.23" stroke="#e8353a" stroke-width="0.8" fill="none"/><path d="M136.9 166.72V169.31M135.4 166.72H138.4M135.4 169.31H138.4" stroke="#e8353a" stroke-width="0.8" fill="none"/><path d="M161.25 156.61V163.09M159.75 156.61H162.75M159.75 163.09H162.75" stroke="#e8353a" stroke-width="0.8" fill="none"/><rect x="62.25" y="223.05" width="3.2" height="3.2" fill="#e8353a"/><rect x="86.6" y="214.17" width="3.2" height="3.2" fill="#e8353a"/><rect x="98.78" y="194.8" width="3.2" height="3.2" fill="#e8353a"/><rect x="110.95" y="181" width="3.2" height="3.2" fill="#e8353a"/><rect x="123.13" y="164.08" width="3.2" height="3.2" fill="#e8353a"/><rect x="135.3" y="166.42" width="3.2" height="3.2" fill="#e8353a"/><rect x="159.65" y="158.25" width="3.2" height="3.2" fill="#e8353a"/><path d="M63.85 225.34L64.66 225.29L65.47 225.25L66.28 225.19L67.1 225.14L67.91 225.08L68.72 225.01L69.53 224.95L70.34 224.87L71.16 224.8L71.97 224.71L72.78 224.63L73.59 224.53L74.4 224.43L75.21 224.33L76.03 224.22L76.84 224.1L77.65 223.97L78.46 223.84L79.27 223.7L80.08 223.55L80.9 223.4L81.71 223.23L82.52 223.06L83.33 222.88L84.14 222.7L84.95 222.5L85.77 222.3L86.58 222.08L87.39 221.86L88.2 221.64L89.01 221.4L89.82 221.16L90.64 220.91L91.45 220.66L92.26 220.4L93.07 220.13L93.88 219.86L94.69 219.59L95.5 219.31L96.32 219.03L97.13 218.75L97.94 218.46L98.75 218.18L99.56 217.9L100.38 217.62L101.19 217.34L102 217.07L102.81 216.79L103.62 216.53L104.43 216.26L105.25 216.01L106.06 215.76L106.87 215.51L107.68 215.28L108.49 215.05L109.3 214.82L110.11 214.61L110.93 214.4L111.74 214.21L112.55 214.02L113.36 213.83L114.17 213.66L114.99 213.49L115.8 213.34L116.61 213.19L117.42 213.04L118.23 212.91L119.04 212.78L119.86 212.66L120.67 212.55L121.48 212.44L122.29 212.34L123.1 212.24L123.91 212.15L124.73 212.07L125.54 211.99L126.35 211.92L127.16 211.85L127.97 211.78L128.78 211.72L129.6 211.67L130.41 211.61L131.22 211.56L132.03 211.52L132.84 211.47L133.65 211.43L134.47 211.4L135.28 211.36L136.09 211.33L136.9 211.3L137.71 211.27L138.52 211.24L139.33 211.22L140.15 211.19L140.96 211.17L141.77 211.15L142.58 211.14L143.39 211.12L144.2 211.1L145.02 211.09L145.83 211.07L146.64 211.06L147.45 211.05L148.26 211.04L149.07 211.03L149.89 211.02L150.7 211.01L151.51 211L152.32 210.99L153.13 210.99L153.94 210.98L154.76 210.97L155.57 210.97L156.38 210.96L157.19 210.96L158 210.95L158.81 210.95L159.63 210.95L160.44 210.94L161.25 210.94" fill="none" stroke="#111" stroke-width="1.45"/><path d="M63.85 224V226.6M62.35 224H65.35M62.35 226.6H65.35" stroke="#111" stroke-width="0.8" fill="none"/><path d="M88.2 218.88V224.72M86.7 218.88H89.7M86.7 224.72H89.7" stroke="#111" stroke-width="0.8" fill="none"/><path d="M100.38 212.47V222.19M98.88 212.47H101.88M98.88 222.19H101.88" stroke="#111" stroke-width="0.8" fill="none"/><path d="M112.55 212.79V223.16M111.05 212.79H114.05M111.05 223.16H114.05" stroke="#111" stroke-width="0.8" fill="none"/><path d="M124.73 207.54V215.71M123.23 207.54H126.23M123.23 215.71H126.23" stroke="#111" stroke-width="0.8" fill="none"/><path d="M136.9 205.73V215.45M135.4 205.73H138.4M135.4 215.45H138.4" stroke="#111" stroke-width="0.8" fill="none"/><path d="M161.25 207.16V214.93M159.75 207.16H162.75M159.75 214.93H162.75" stroke="#111" stroke-width="0.8" fill="none"/><circle cx="63.85" cy="225.3" r="1.75" fill="#111"/><circle cx="88.2" cy="221.8" r="1.75" fill="#111"/><circle cx="100.38" cy="217.33" r="1.75" fill="#111"/><circle cx="112.55" cy="217.98" r="1.75" fill="#111"/><circle cx="124.73" cy="211.63" r="1.75" fill="#111"/><circle cx="136.9" cy="210.59" r="1.75" fill="#111"/><circle cx="161.25" cy="211.04" r="1.75" fill="#111"/><path d="M14 136.3H25" stroke="#111" stroke-width="1.4"/><circle cx="19.5" cy="136.3" r="2.19" fill="#111"/><text x="28.3" y="139.4" font-size="8.6" text-anchor="start" fill="#111" stroke="#111" stroke-width="0.1" font-weight="normal" >EV</text><path d="M44.8 136.3H55.8" stroke="#e8353a" stroke-width="1.4"/><rect x="48.3" y="134.3" width="4" height="4" fill="#e8353a"/><text x="59.1" y="139.4" font-size="8.6" text-anchor="start" fill="#111" stroke="#111" stroke-width="0.1" font-weight="normal" >GRK2</text><path d="M88.8 136.3H99.8" stroke="#1e8f4a" stroke-width="1.4"/><path d="M94.3 133.8L96.8 138.3L91.8 138.3Z" fill="#1e8f4a"/><text x="103.1" y="139.4" font-size="8.6" text-anchor="start" fill="#111" stroke="#111" stroke-width="0.1" font-weight="normal" >GRK2-D110A</text><text x="221.2" y="140.4" font-size="11" text-anchor="start" fill="#111" stroke="#111" stroke-width="0.1" font-weight="normal" >c</text><path d="M262.5 144.3V242H408.6" fill="none" stroke="#555" stroke-width="1.1"/><path d="M260.5 144.3H262.5" stroke="#555" stroke-width="1"/><path d="M260.5 160.5H262.5" stroke="#555" stroke-width="1"/><path d="M260.5 176.7H262.5" stroke="#555" stroke-width="1"/><path d="M260.5 192.9H262.5" stroke="#555" stroke-width="1"/><path d="M260.5 209.1H262.5" stroke="#555" stroke-width="1"/><path d="M260.5 225.3H262.5" stroke="#555" stroke-width="1"/><text x="259.1" y="163.4" font-size="8.1" text-anchor="end" fill="#222" stroke="#222" stroke-width="0.15" font-weight="normal" >100</text><text x="259.1" y="195.8" font-size="8.1" text-anchor="end" fill="#222" stroke="#222" stroke-width="0.15" font-weight="normal" >50</text><text x="259.1" y="228.2" font-size="8.1" text-anchor="end" fill="#222" stroke="#222" stroke-width="0.15" font-weight="normal" >0</text><path d="M262.5 242V244" stroke="#555" stroke-width="1"/><text x="264.4" y="251.7" font-size="7.7" fill="#222" stroke="#222" stroke-width="0.2" text-anchor="end">10</text><text x="265.4" y="248.4" font-size="5.6" fill="#222" stroke="#222" stroke-width="0.12">-4</text><path d="M286.85 242V244" stroke="#555" stroke-width="1"/><text x="288.75" y="251.7" font-size="7.7" fill="#222" stroke="#222" stroke-width="0.2" text-anchor="end">10</text><text x="289.75" y="248.4" font-size="5.6" fill="#222" stroke="#222" stroke-width="0.12">-3</text><path d="M311.2 242V244" stroke="#555" stroke-width="1"/><text x="313.1" y="251.7" font-size="7.7" fill="#222" stroke="#222" stroke-width="0.2" text-anchor="end">10</text><text x="314.1" y="248.4" font-size="5.6" fill="#222" stroke="#222" stroke-width="0.12">-2</text><path d="M335.55 242V244" stroke="#555" stroke-width="1"/><text x="337.45" y="251.7" font-size="7.7" fill="#222" stroke="#222" stroke-width="0.2" text-anchor="end">10</text><text x="338.45" y="248.4" font-size="5.6" fill="#222" stroke="#222" stroke-width="0.12">-1</text><path d="M359.9 242V244" stroke="#555" stroke-width="1"/><text x="361.8" y="251.7" font-size="7.7" fill="#222" stroke="#222" stroke-width="0.2" text-anchor="end">10</text><text x="362.8" y="248.4" font-size="5.6" fill="#222" stroke="#222" stroke-width="0.12">0</text><path d="M384.25 242V244" stroke="#555" stroke-width="1"/><text x="386.15" y="251.7" font-size="7.7" fill="#222" stroke="#222" stroke-width="0.2" text-anchor="end">10</text><text x="387.15" y="248.4" font-size="5.6" fill="#222" stroke="#222" stroke-width="0.12">1</text><path d="M408.6 242V244" stroke="#555" stroke-width="1"/><text x="410.5" y="251.7" font-size="7.7" fill="#222" stroke="#222" stroke-width="0.2" text-anchor="end">10</text><text x="411.5" y="248.4" font-size="5.6" fill="#222" stroke="#222" stroke-width="0.12">2</text><text x="334.5" y="259.5" font-size="8.3" text-anchor="middle" fill="#111" stroke="#111" stroke-width="0.1" font-weight="normal" >Iso [&#181; M]</text><text transform="translate(234.2 193.7) rotate(-90)" font-size="8.2" text-anchor="middle" fill="#2a2a2a">normalized</text><text transform="translate(244.4 193.7) rotate(-90)" font-size="8.2" text-anchor="middle" fill="#2a2a2a">&#916; net BRET change (%)</text><path d="M264.1 160.5H408.6" stroke="#555" stroke-width="1" stroke-dasharray="1 1.1"/><path d="M286.85 224.6L287.66 224.41L288.47 224.21L289.29 223.99L290.1 223.76L290.91 223.52L291.72 223.26L292.53 222.99L293.34 222.69L294.15 222.39L294.97 222.06L295.78 221.71L296.59 221.34L297.4 220.96L298.21 220.55L299.02 220.11L299.84 219.66L300.65 219.17L301.46 218.67L302.27 218.13L303.08 217.57L303.89 216.98L304.71 216.37L305.52 215.72L306.33 215.05L307.14 214.35L307.95 213.61L308.76 212.85L309.58 212.06L310.39 211.23L311.2 210.38L312.01 209.5L312.82 208.59L313.63 207.66L314.45 206.7L315.26 205.71L316.07 204.7L316.88 203.67L317.69 202.62L318.5 201.55L319.32 200.46L320.13 199.37L320.94 198.26L321.75 197.14L322.56 196.01L323.38 194.89L324.19 193.76L325 192.63L325.81 191.51L326.62 190.4L327.43 189.29L328.25 188.2L329.06 187.12L329.87 186.06L330.68 185.01L331.49 183.99L332.3 182.99L333.12 182.02L333.93 181.06L334.74 180.14L335.55 179.24L336.36 178.37L337.17 177.53L337.99 176.72L338.8 175.94L339.61 175.19L340.42 174.47L341.23 173.78L342.04 173.11L342.86 172.48L343.67 171.88L344.48 171.3L345.29 170.75L346.1 170.23L346.91 169.73L347.73 169.26L348.54 168.81L349.35 168.39L350.16 167.98L350.97 167.6L351.78 167.25L352.6 166.91L353.41 166.59L354.22 166.28L355.03 166L355.84 165.73L356.65 165.48L357.47 165.24L358.28 165.02L359.09 164.81L359.9 164.61L360.71 164.43L361.52 164.25L362.33 164.09L363.15 163.94L363.96 163.79L364.77 163.66L365.58 163.53L366.39 163.41L367.2 163.3L368.02 163.2L368.83 163.1L369.64 163.01L370.45 162.92L371.26 162.84L372.07 162.77L372.89 162.7L373.7 162.63L374.51 162.57L375.32 162.51L376.13 162.46L376.94 162.41L377.76 162.36L378.57 162.32L379.38 162.28L380.19 162.24L381 162.21L381.81 162.17L382.63 162.14L383.44 162.11L384.25 162.08" fill="none" stroke="#5bc190" stroke-width="1.45"/><path d="M286.85 224V226.6M285.35 224H288.35M285.35 226.6H288.35" stroke="#5bc190" stroke-width="0.8" fill="none"/><path d="M311.2 208.45V212.34M309.7 208.45H312.7M309.7 212.34H312.7" stroke="#5bc190" stroke-width="0.8" fill="none"/><path d="M323.38 193.55V200.03M321.88 193.55H324.88M321.88 200.03H324.88" stroke="#5bc190" stroke-width="0.8" fill="none"/><path d="M335.55 175.4V184.48M334.05 175.4H337.05M334.05 184.48H337.05" stroke="#5bc190" stroke-width="0.8" fill="none"/><path d="M347.73 166.98V170.87M346.23 166.98H349.23M346.23 170.87H349.23" stroke="#5bc190" stroke-width="0.8" fill="none"/><path d="M359.9 157.91V170.87M358.4 157.91H361.4M358.4 170.87H361.4" stroke="#5bc190" stroke-width="0.8" fill="none"/><path d="M384.25 162.12V166.01M382.75 162.12H385.75M382.75 166.01H385.75" stroke="#5bc190" stroke-width="0.8" fill="none"/><path d="M286.85 223.2L288.95 226.98L284.75 226.98Z" fill="#fff" stroke="#5bc190" stroke-width="1.1"/><path d="M311.2 208.3L313.3 212.08L309.1 212.08Z" fill="#fff" stroke="#5bc190" stroke-width="1.1"/><path d="M323.38 194.69L325.48 198.47L321.27 198.47Z" fill="#fff" stroke="#5bc190" stroke-width="1.1"/><path d="M335.55 177.84L337.65 181.62L333.45 181.62Z" fill="#fff" stroke="#5bc190" stroke-width="1.1"/><path d="M347.73 166.82L349.83 170.6L345.62 170.6Z" fill="#fff" stroke="#5bc190" stroke-width="1.1"/><path d="M359.9 162.29L362 166.07L357.8 166.07Z" fill="#fff" stroke="#5bc190" stroke-width="1.1"/><path d="M384.25 161.96L386.35 165.74L382.15 165.74Z" fill="#fff" stroke="#5bc190" stroke-width="1.1"/><path d="M286.85 224.27L287.66 224.03L288.47 223.78L289.29 223.52L290.1 223.24L290.91 222.94L291.72 222.63L292.53 222.3L293.34 221.95L294.15 221.59L294.97 221.2L295.78 220.79L296.59 220.36L297.4 219.91L298.21 219.43L299.02 218.93L299.84 218.41L300.65 217.86L301.46 217.28L302.27 216.68L303.08 216.05L303.89 215.4L304.71 214.72L305.52 214L306.33 213.26L307.14 212.5L307.95 211.7L308.76 210.87L309.58 210.02L310.39 209.14L311.2 208.24L312.01 207.31L312.82 206.35L313.63 205.37L314.45 204.36L315.26 203.34L316.07 202.29L316.88 201.23L317.69 200.15L318.5 199.06L319.32 197.96L320.13 196.84L320.94 195.72L321.75 194.59L322.56 193.46L323.38 192.33L324.19 191.2L325 190.07L325.81 188.95L326.62 187.84L327.43 186.74L328.25 185.65L329.06 184.58L329.87 183.52L330.68 182.48L331.49 181.47L332.3 180.47L333.12 179.5L333.93 178.55L334.74 177.63L335.55 176.73L336.36 175.87L337.17 175.02L337.99 174.21L338.8 173.42L339.61 172.67L340.42 171.94L341.23 171.24L342.04 170.56L342.86 169.92L343.67 169.3L344.48 168.71L345.29 168.14L346.1 167.6L346.91 167.09L347.73 166.6L348.54 166.13L349.35 165.69L350.16 165.27L350.97 164.87L351.78 164.49L352.6 164.13L353.41 163.79L354.22 163.46L355.03 163.16L355.84 162.87L356.65 162.6L357.47 162.34L358.28 162.09L359.09 161.86L359.9 161.65L360.71 161.44L361.52 161.25L362.33 161.07L363.15 160.9L363.96 160.73L364.77 160.58L365.58 160.44L366.39 160.3L367.2 160.18L368.02 160.06L368.83 159.95L369.64 159.84L370.45 159.74L371.26 159.65L372.07 159.56L372.89 159.48L373.7 159.4L374.51 159.33L375.32 159.26L376.13 159.2L376.94 159.14L377.76 159.08L378.57 159.03L379.38 158.98L380.19 158.93L381 158.89L381.81 158.85L382.63 158.81L383.44 158.77L384.25 158.74" fill="none" stroke="#f0893a" stroke-width="1.45"/><path d="M286.85 224V226.6M285.35 224H288.35M285.35 226.6H288.35" stroke="#f0893a" stroke-width="0.8" fill="none"/><path d="M311.2 204.56V209.75M309.7 204.56H312.7M309.7 209.75H312.7" stroke="#f0893a" stroke-width="0.8" fill="none"/><path d="M323.38 188.36V201.32M321.88 188.36H324.88M321.88 201.32H324.88" stroke="#f0893a" stroke-width="0.8" fill="none"/><path d="M335.55 174.11V179.29M334.05 174.11H337.05M334.05 179.29H337.05" stroke="#f0893a" stroke-width="0.8" fill="none"/><path d="M347.73 155.25V166.14M346.23 155.25H349.23M346.23 166.14H349.23" stroke="#f0893a" stroke-width="0.8" fill="none"/><path d="M359.9 158.04V165.55M358.4 158.04H361.4M358.4 165.55H361.4" stroke="#f0893a" stroke-width="0.8" fill="none"/><path d="M384.25 156.22V164.78M382.75 156.22H385.75M382.75 164.78H385.75" stroke="#f0893a" stroke-width="0.8" fill="none"/><rect x="285.25" y="223.7" width="3.2" height="3.2" fill="#fff" stroke="#f0893a" stroke-width="1.1"/><rect x="309.6" y="205.56" width="3.2" height="3.2" fill="#fff" stroke="#f0893a" stroke-width="1.1"/><rect x="321.77" y="193.24" width="3.2" height="3.2" fill="#fff" stroke="#f0893a" stroke-width="1.1"/><rect x="333.95" y="175.1" width="3.2" height="3.2" fill="#fff" stroke="#f0893a" stroke-width="1.1"/><rect x="346.12" y="159.09" width="3.2" height="3.2" fill="#fff" stroke="#f0893a" stroke-width="1.1"/><rect x="358.3" y="160.2" width="3.2" height="3.2" fill="#fff" stroke="#f0893a" stroke-width="1.1"/><rect x="382.65" y="158.9" width="3.2" height="3.2" fill="#fff" stroke="#f0893a" stroke-width="1.1"/><path d="M286.85 225.34L287.66 225.29L288.47 225.25L289.29 225.19L290.1 225.14L290.91 225.08L291.72 225.01L292.53 224.95L293.34 224.87L294.15 224.8L294.97 224.71L295.78 224.63L296.59 224.53L297.4 224.43L298.21 224.33L299.02 224.22L299.84 224.1L300.65 223.97L301.46 223.84L302.27 223.7L303.08 223.55L303.89 223.4L304.71 223.23L305.52 223.06L306.33 222.88L307.14 222.7L307.95 222.5L308.76 222.3L309.58 222.08L310.39 221.86L311.2 221.64L312.01 221.4L312.82 221.16L313.63 220.91L314.45 220.66L315.26 220.4L316.07 220.13L316.88 219.86L317.69 219.59L318.5 219.31L319.32 219.03L320.13 218.75L320.94 218.46L321.75 218.18L322.56 217.9L323.38 217.62L324.19 217.34L325 217.07L325.81 216.79L326.62 216.53L327.43 216.26L328.25 216.01L329.06 215.76L329.87 215.51L330.68 215.28L331.49 215.05L332.3 214.82L333.12 214.61L333.93 214.4L334.74 214.21L335.55 214.02L336.36 213.83L337.17 213.66L337.99 213.49L338.8 213.34L339.61 213.19L340.42 213.04L341.23 212.91L342.04 212.78L342.86 212.66L343.67 212.55L344.48 212.44L345.29 212.34L346.1 212.24L346.91 212.15L347.73 212.07L348.54 211.99L349.35 211.92L350.16 211.85L350.97 211.78L351.78 211.72L352.6 211.67L353.41 211.61L354.22 211.56L355.03 211.52L355.84 211.47L356.65 211.43L357.47 211.4L358.28 211.36L359.09 211.33L359.9 211.3L360.71 211.27L361.52 211.24L362.33 211.22L363.15 211.19L363.96 211.17L364.77 211.15L365.58 211.14L366.39 211.12L367.2 211.1L368.02 211.09L368.83 211.07L369.64 211.06L370.45 211.05L371.26 211.04L372.07 211.03L372.89 211.02L373.7 211.01L374.51 211L375.32 210.99L376.13 210.99L376.94 210.98L377.76 210.97L378.57 210.97L379.38 210.96L380.19 210.96L381 210.95L381.81 210.95L382.63 210.95L383.44 210.94L384.25 210.94" fill="none" stroke="#111" stroke-width="1.45"/><path d="M286.85 224V226.6M285.35 224H288.35M285.35 226.6H288.35" stroke="#111" stroke-width="0.8" fill="none"/><path d="M311.2 218.88V224.72M309.7 218.88H312.7M309.7 224.72H312.7" stroke="#111" stroke-width="0.8" fill="none"/><path d="M323.38 212.47V222.19M321.88 212.47H324.88M321.88 222.19H324.88" stroke="#111" stroke-width="0.8" fill="none"/><path d="M335.55 212.79V223.16M334.05 212.79H337.05M334.05 223.16H337.05" stroke="#111" stroke-width="0.8" fill="none"/><path d="M347.73 207.54V215.71M346.23 207.54H349.23M346.23 215.71H349.23" stroke="#111" stroke-width="0.8" fill="none"/><path d="M359.9 205.73V215.45M358.4 205.73H361.4M358.4 215.45H361.4" stroke="#111" stroke-width="0.8" fill="none"/><path d="M384.25 207.16V214.93M382.75 207.16H385.75M382.75 214.93H385.75" stroke="#111" stroke-width="0.8" fill="none"/><circle cx="286.85" cy="225.3" r="1.75" fill="#111"/><circle cx="311.2" cy="221.8" r="1.75" fill="#111"/><circle cx="323.38" cy="217.33" r="1.75" fill="#111"/><circle cx="335.55" cy="217.98" r="1.75" fill="#111"/><circle cx="347.73" cy="211.63" r="1.75" fill="#111"/><circle cx="359.9" cy="210.59" r="1.75" fill="#111"/><circle cx="384.25" cy="211.04" r="1.75" fill="#111"/><path d="M237.8 136.3H248.8" stroke="#111" stroke-width="1.4"/><circle cx="243.3" cy="136.3" r="2.19" fill="#111"/><text x="252.1" y="139.4" font-size="8.6" text-anchor="start" fill="#111" stroke="#111" stroke-width="0.1" font-weight="normal" >EV</text><path d="M269.2 136.3H280.2" stroke="#f0893a" stroke-width="1.4"/><rect x="272.7" y="134.3" width="4" height="4" fill="#fff" stroke="#f0893a" stroke-width="1.1"/><text x="283.5" y="139.4" font-size="8.6" text-anchor="start" fill="#111" stroke="#111" stroke-width="0.1" font-weight="normal" >GRK2-CAAX</text><path d="M339.6 136.3H350.6" stroke="#5bc190" stroke-width="1.4"/><path d="M345.1 133.68L347.73 138.4L342.48 138.4Z" fill="#fff" stroke="#5bc190" stroke-width="1.1"/><text x="353.9" y="139.4" font-size="8.6" text-anchor="start" fill="#111" stroke="#111" stroke-width="0.1" font-weight="normal" >GRK2-D110A-CAAX</text><text x="0.2" y="277.8" font-size="11" text-anchor="start" fill="#111" stroke="#111" stroke-width="0.1" font-weight="normal" >d</text><path d="M39.5 280.3V378H185.6" fill="none" stroke="#555" stroke-width="1.1"/><path d="M37.5 280.3H39.5" stroke="#555" stroke-width="1"/><path d="M37.5 296.5H39.5" stroke="#555" stroke-width="1"/><path d="M37.5 312.7H39.5" stroke="#555" stroke-width="1"/><path d="M37.5 328.9H39.5" stroke="#555" stroke-width="1"/><path d="M37.5 345.1H39.5" stroke="#555" stroke-width="1"/><path d="M37.5 361.3H39.5" stroke="#555" stroke-width="1"/><text x="36.1" y="299.4" font-size="8.1" text-anchor="end" fill="#222" stroke="#222" stroke-width="0.15" font-weight="normal" >100</text><text x="36.1" y="331.8" font-size="8.1" text-anchor="end" fill="#222" stroke="#222" stroke-width="0.15" font-weight="normal" >50</text><text x="36.1" y="364.2" font-size="8.1" text-anchor="end" fill="#222" stroke="#222" stroke-width="0.15" font-weight="normal" >0</text><path d="M39.5 378V380" stroke="#555" stroke-width="1"/><text x="41.4" y="387.7" font-size="7.7" fill="#222" stroke="#222" stroke-width="0.2" text-anchor="end">10</text><text x="42.4" y="384.4" font-size="5.6" fill="#222" stroke="#222" stroke-width="0.12">-4</text><path d="M63.85 378V380" stroke="#555" stroke-width="1"/><text x="65.75" y="387.7" font-size="7.7" fill="#222" stroke="#222" stroke-width="0.2" text-anchor="end">10</text><text x="66.75" y="384.4" font-size="5.6" fill="#222" stroke="#222" stroke-width="0.12">-3</text><path d="M88.2 378V380" stroke="#555" stroke-width="1"/><text x="90.1" y="387.7" font-size="7.7" fill="#222" stroke="#222" stroke-width="0.2" text-anchor="end">10</text><text x="91.1" y="384.4" font-size="5.6" fill="#222" stroke="#222" stroke-width="0.12">-2</text><path d="M112.55 378V380" stroke="#555" stroke-width="1"/><text x="114.45" y="387.7" font-size="7.7" fill="#222" stroke="#222" stroke-width="0.2" text-anchor="end">10</text><text x="115.45" y="384.4" font-size="5.6" fill="#222" stroke="#222" stroke-width="0.12">-1</text><path d="M136.9 378V380" stroke="#555" stroke-width="1"/><text x="138.8" y="387.7" font-size="7.7" fill="#222" stroke="#222" stroke-width="0.2" text-anchor="end">10</text><text x="139.8" y="384.4" font-size="5.6" fill="#222" stroke="#222" stroke-width="0.12">0</text><path d="M161.25 378V380" stroke="#555" stroke-width="1"/><text x="163.15" y="387.7" font-size="7.7" fill="#222" stroke="#222" stroke-width="0.2" text-anchor="end">10</text><text x="164.15" y="384.4" font-size="5.6" fill="#222" stroke="#222" stroke-width="0.12">1</text><path d="M185.6 378V380" stroke="#555" stroke-width="1"/><text x="187.5" y="387.7" font-size="7.7" fill="#222" stroke="#222" stroke-width="0.2" text-anchor="end">10</text><text x="188.5" y="384.4" font-size="5.6" fill="#222" stroke="#222" stroke-width="0.12">2</text><text x="111.5" y="395.5" font-size="8.3" text-anchor="middle" fill="#111" stroke="#111" stroke-width="0.1" font-weight="normal" >Iso [&#181; M]</text><text transform="translate(11.2 329.7) rotate(-90)" font-size="8.2" text-anchor="middle" fill="#2a2a2a">normalized</text><text transform="translate(20.4 329.7) rotate(-90)" font-size="8.2" text-anchor="middle" fill="#2a2a2a">&#916; net BRET change (%)</text><path d="M41.1 296.5H185.6" stroke="#555" stroke-width="1" stroke-dasharray="1 1.1"/><path d="M63.85 360.47L64.66 360.37L65.47 360.26L66.28 360.15L67.1 360.02L67.91 359.89L68.72 359.74L69.53 359.59L70.34 359.42L71.16 359.24L71.97 359.04L72.78 358.83L73.59 358.61L74.4 358.36L75.21 358.1L76.03 357.83L76.84 357.53L77.65 357.21L78.46 356.87L79.27 356.5L80.08 356.11L80.9 355.69L81.71 355.25L82.52 354.77L83.33 354.27L84.14 353.73L84.95 353.17L85.77 352.56L86.58 351.93L87.39 351.26L88.2 350.55L89.01 349.8L89.82 349.02L90.64 348.19L91.45 347.33L92.26 346.43L93.07 345.49L93.88 344.52L94.69 343.51L95.5 342.46L96.32 341.38L97.13 340.27L97.94 339.13L98.75 337.96L99.56 336.77L100.38 335.55L101.19 334.32L102 333.08L102.81 331.82L103.62 330.56L104.43 329.29L105.25 328.03L106.06 326.77L106.87 325.52L107.68 324.28L108.49 323.06L109.3 321.85L110.11 320.67L110.93 319.52L111.74 318.39L112.55 317.3L113.36 316.24L114.17 315.21L114.99 314.21L115.8 313.26L116.61 312.34L117.42 311.46L118.23 310.62L119.04 309.82L119.86 309.05L120.67 308.33L121.48 307.64L122.29 306.98L123.1 306.36L123.91 305.78L124.73 305.23L125.54 304.71L126.35 304.22L127.16 303.76L127.97 303.33L128.78 302.93L129.6 302.55L130.41 302.2L131.22 301.87L132.03 301.56L132.84 301.27L133.65 301L134.47 300.75L135.28 300.52L136.09 300.3L136.9 300.1L137.71 299.91L138.52 299.74L139.33 299.58L140.15 299.43L140.96 299.29L141.77 299.16L142.58 299.04L143.39 298.92L144.2 298.82L145.02 298.72L145.83 298.64L146.64 298.55L147.45 298.48L148.26 298.41L149.07 298.34L149.89 298.28L150.7 298.22L151.51 298.17L152.32 298.12L153.13 298.08L153.94 298.04L154.76 298L155.57 297.96L156.38 297.93L157.19 297.9L158 297.87L158.81 297.85L159.63 297.82L160.44 297.8L161.25 297.78" fill="none" stroke="#e8353a" stroke-width="1.45"/><path d="M63.85 357.41V363.89M62.35 357.41H65.35M62.35 363.89H65.35" stroke="#e8353a" stroke-width="0.8" fill="none"/><path d="M88.2 348.53V355.01M86.7 348.53H89.7M86.7 355.01H89.7" stroke="#e8353a" stroke-width="0.8" fill="none"/><path d="M100.38 328.51V336.29M98.88 328.51H101.88M98.88 336.29H101.88" stroke="#e8353a" stroke-width="0.8" fill="none"/><path d="M112.55 316V321.19M111.05 316H114.05M111.05 321.19H114.05" stroke="#e8353a" stroke-width="0.8" fill="none"/><path d="M124.73 297.8V305.57M123.23 297.8H126.23M123.23 305.57H126.23" stroke="#e8353a" stroke-width="0.8" fill="none"/><path d="M136.9 302.72V305.31M135.4 302.72H138.4M135.4 305.31H138.4" stroke="#e8353a" stroke-width="0.8" fill="none"/><path d="M161.25 292.61V299.09M159.75 292.61H162.75M159.75 299.09H162.75" stroke="#e8353a" stroke-width="0.8" fill="none"/><rect x="62.25" y="359.05" width="3.2" height="3.2" fill="#e8353a"/><rect x="86.6" y="350.17" width="3.2" height="3.2" fill="#e8353a"/><rect x="98.78" y="330.8" width="3.2" height="3.2" fill="#e8353a"/><rect x="110.95" y="317" width="3.2" height="3.2" fill="#e8353a"/><rect x="123.13" y="300.08" width="3.2" height="3.2" fill="#e8353a"/><rect x="135.3" y="302.42" width="3.2" height="3.2" fill="#e8353a"/><rect x="159.65" y="294.25" width="3.2" height="3.2" fill="#e8353a"/><path d="M63.85 361.49L64.66 361.47L65.47 361.44L66.28 361.42L67.1 361.38L67.91 361.35L68.72 361.32L69.53 361.28L70.34 361.24L71.16 361.19L71.97 361.14L72.78 361.09L73.59 361.04L74.4 360.98L75.21 360.91L76.03 360.85L76.84 360.77L77.65 360.69L78.46 360.61L79.27 360.52L80.08 360.42L80.9 360.32L81.71 360.21L82.52 360.09L83.33 359.96L84.14 359.83L84.95 359.69L85.77 359.53L86.58 359.37L87.39 359.2L88.2 359.02L89.01 358.82L89.82 358.62L90.64 358.4L91.45 358.18L92.26 357.94L93.07 357.69L93.88 357.42L94.69 357.15L95.5 356.86L96.32 356.56L97.13 356.24L97.94 355.92L98.75 355.58L99.56 355.23L100.38 354.88L101.19 354.51L102 354.13L102.81 353.74L103.62 353.35L104.43 352.95L105.25 352.54L106.06 352.13L106.87 351.72L107.68 351.3L108.49 350.88L109.3 350.47L110.11 350.05L110.93 349.64L111.74 349.23L112.55 348.83L113.36 348.43L114.17 348.04L114.99 347.66L115.8 347.29L116.61 346.93L117.42 346.57L118.23 346.23L119.04 345.9L119.86 345.59L120.67 345.28L121.48 344.99L122.29 344.71L123.1 344.44L123.91 344.18L124.73 343.94L125.54 343.71L126.35 343.49L127.16 343.28L127.97 343.08L128.78 342.89L129.6 342.72L130.41 342.55L131.22 342.4L132.03 342.25L132.84 342.11L133.65 341.98L134.47 341.86L135.28 341.75L136.09 341.64L136.9 341.54L137.71 341.45L138.52 341.36L139.33 341.28L140.15 341.21L140.96 341.14L141.77 341.07L142.58 341.01L143.39 340.95L144.2 340.9L145.02 340.85L145.83 340.81L146.64 340.76L147.45 340.72L148.26 340.69L149.07 340.65L149.89 340.62L150.7 340.59L151.51 340.57L152.32 340.54L153.13 340.52L153.94 340.5L154.76 340.47L155.57 340.46L156.38 340.44L157.19 340.42L158 340.41L158.81 340.39L159.63 340.38L160.44 340.37L161.25 340.36" fill="none" stroke="#1f97b0" stroke-width="1.45"/><path d="M63.85 360V362.6M62.35 360H65.35M62.35 362.6H65.35" stroke="#1f97b0" stroke-width="0.8" fill="none"/><path d="M88.2 357.41V361.3M86.7 357.41H89.7M86.7 361.3H89.7" stroke="#1f97b0" stroke-width="0.8" fill="none"/><path d="M100.38 352.23V356.12M98.88 352.23H101.88M98.88 356.12H101.88" stroke="#1f97b0" stroke-width="0.8" fill="none"/><path d="M112.55 344.91V350.09M111.05 344.91H114.05M111.05 350.09H114.05" stroke="#1f97b0" stroke-width="0.8" fill="none"/><path d="M124.73 341.41V346.59M123.23 341.41H126.23M123.23 346.59H126.23" stroke="#1f97b0" stroke-width="0.8" fill="none"/><path d="M136.9 338.23V343.42M135.4 338.23H138.4M135.4 343.42H138.4" stroke="#1f97b0" stroke-width="0.8" fill="none"/><path d="M161.25 338.49V341.08M159.75 338.49H162.75M159.75 341.08H162.75" stroke="#1f97b0" stroke-width="0.8" fill="none"/><path d="M63.85 363.3L65.85 359.7L61.85 359.7Z" fill="#1f97b0"/><path d="M88.2 361.36L90.2 357.76L86.2 357.76Z" fill="#1f97b0"/><path d="M100.38 356.17L102.38 352.57L98.38 352.57Z" fill="#1f97b0"/><path d="M112.55 349.5L114.55 345.9L110.55 345.9Z" fill="#1f97b0"/><path d="M124.73 346L126.73 342.4L122.73 342.4Z" fill="#1f97b0"/><path d="M136.9 342.82L138.9 339.22L134.9 339.22Z" fill="#1f97b0"/><path d="M161.25 341.79L163.25 338.19L159.25 338.19Z" fill="#1f97b0"/><path d="M63.85 361.34L64.66 361.29L65.47 361.25L66.28 361.19L67.1 361.14L67.91 361.08L68.72 361.01L69.53 360.95L70.34 360.87L71.16 360.8L71.97 360.71L72.78 360.63L73.59 360.53L74.4 360.43L75.21 360.33L76.03 360.22L76.84 360.1L77.65 359.97L78.46 359.84L79.27 359.7L80.08 359.55L80.9 359.4L81.71 359.23L82.52 359.06L83.33 358.88L84.14 358.7L84.95 358.5L85.77 358.3L86.58 358.08L87.39 357.86L88.2 357.64L89.01 357.4L89.82 357.16L90.64 356.91L91.45 356.66L92.26 356.4L93.07 356.13L93.88 355.86L94.69 355.59L95.5 355.31L96.32 355.03L97.13 354.75L97.94 354.46L98.75 354.18L99.56 353.9L100.38 353.62L101.19 353.34L102 353.07L102.81 352.79L103.62 352.53L104.43 352.26L105.25 352.01L106.06 351.76L106.87 351.51L107.68 351.28L108.49 351.05L109.3 350.82L110.11 350.61L110.93 350.4L111.74 350.21L112.55 350.02L113.36 349.83L114.17 349.66L114.99 349.49L115.8 349.34L116.61 349.19L117.42 349.04L118.23 348.91L119.04 348.78L119.86 348.66L120.67 348.55L121.48 348.44L122.29 348.34L123.1 348.24L123.91 348.15L124.73 348.07L125.54 347.99L126.35 347.92L127.16 347.85L127.97 347.78L128.78 347.72L129.6 347.67L130.41 347.61L131.22 347.56L132.03 347.52L132.84 347.47L133.65 347.43L134.47 347.4L135.28 347.36L136.09 347.33L136.9 347.3L137.71 347.27L138.52 347.24L139.33 347.22L140.15 347.19L140.96 347.17L141.77 347.15L142.58 347.14L143.39 347.12L144.2 347.1L145.02 347.09L145.83 347.07L146.64 347.06L147.45 347.05L148.26 347.04L149.07 347.03L149.89 347.02L150.7 347.01L151.51 347L152.32 346.99L153.13 346.99L153.94 346.98L154.76 346.97L155.57 346.97L156.38 346.96L157.19 346.96L158 346.95L158.81 346.95L159.63 346.95L160.44 346.94L161.25 346.94" fill="none" stroke="#111" stroke-width="1.45"/><path d="M63.85 360V362.6M62.35 360H65.35M62.35 362.6H65.35" stroke="#111" stroke-width="0.8" fill="none"/><path d="M88.2 354.88V360.72M86.7 354.88H89.7M86.7 360.72H89.7" stroke="#111" stroke-width="0.8" fill="none"/><path d="M100.38 348.47V358.19M98.88 348.47H101.88M98.88 358.19H101.88" stroke="#111" stroke-width="0.8" fill="none"/><path d="M112.55 348.79V359.16M111.05 348.79H114.05M111.05 359.16H114.05" stroke="#111" stroke-width="0.8" fill="none"/><path d="M124.73 343.54V351.71M123.23 343.54H126.23M123.23 351.71H126.23" stroke="#111" stroke-width="0.8" fill="none"/><path d="M136.9 341.73V351.45M135.4 341.73H138.4M135.4 351.45H138.4" stroke="#111" stroke-width="0.8" fill="none"/><path d="M161.25 343.16V350.93M159.75 343.16H162.75M159.75 350.93H162.75" stroke="#111" stroke-width="0.8" fill="none"/><circle cx="63.85" cy="361.3" r="1.75" fill="#111"/><circle cx="88.2" cy="357.8" r="1.75" fill="#111"/><circle cx="100.38" cy="353.33" r="1.75" fill="#111"/><circle cx="112.55" cy="353.98" r="1.75" fill="#111"/><circle cx="124.73" cy="347.63" r="1.75" fill="#111"/><circle cx="136.9" cy="346.59" r="1.75" fill="#111"/><circle cx="161.25" cy="347.04" r="1.75" fill="#111"/><path d="M14 274H25" stroke="#111" stroke-width="1.4"/><circle cx="19.5" cy="274" r="2.19" fill="#111"/><text x="28.3" y="277.1" font-size="8.6" text-anchor="start" fill="#111" stroke="#111" stroke-width="0.1" font-weight="normal" >EV</text><path d="M45.8 274H56.8" stroke="#e8353a" stroke-width="1.4"/><rect x="49.3" y="272" width="4" height="4" fill="#e8353a"/><text x="60.1" y="277.1" font-size="8.6" text-anchor="start" fill="#111" stroke="#111" stroke-width="0.1" font-weight="normal" >GRK2</text><path d="M89.6 274H100.6" stroke="#1f97b0" stroke-width="1.4"/><path d="M95.1 276.5L97.6 272L92.6 272Z" fill="#1f97b0"/><text x="103.9" y="277.1" font-size="8.6" text-anchor="start" fill="#111" stroke="#111" stroke-width="0.1" font-weight="normal" >GRK2-R587Q</text><text x="221.2" y="277.8" font-size="11" text-anchor="start" fill="#111" stroke="#111" stroke-width="0.1" font-weight="normal" >e</text><path d="M262.5 280.3V378H408.6" fill="none" stroke="#555" stroke-width="1.1"/><path d="M260.5 280.3H262.5" stroke="#555" stroke-width="1"/><path d="M260.5 296.5H262.5" stroke="#555" stroke-width="1"/><path d="M260.5 312.7H262.5" stroke="#555" stroke-width="1"/><path d="M260.5 328.9H262.5" stroke="#555" stroke-width="1"/><path d="M260.5 345.1H262.5" stroke="#555" stroke-width="1"/><path d="M260.5 361.3H262.5" stroke="#555" stroke-width="1"/><text x="259.1" y="299.4" font-size="8.1" text-anchor="end" fill="#222" stroke="#222" stroke-width="0.15" font-weight="normal" >100</text><text x="259.1" y="331.8" font-size="8.1" text-anchor="end" fill="#222" stroke="#222" stroke-width="0.15" font-weight="normal" >50</text><text x="259.1" y="364.2" font-size="8.1" text-anchor="end" fill="#222" stroke="#222" stroke-width="0.15" font-weight="normal" >0</text><path d="M262.5 378V380" stroke="#555" stroke-width="1"/><text x="264.4" y="387.7" font-size="7.7" fill="#222" stroke="#222" stroke-width="0.2" text-anchor="end">10</text><text x="265.4" y="384.4" font-size="5.6" fill="#222" stroke="#222" stroke-width="0.12">-4</text><path d="M286.85 378V380" stroke="#555" stroke-width="1"/><text x="288.75" y="387.7" font-size="7.7" fill="#222" stroke="#222" stroke-width="0.2" text-anchor="end">10</text><text x="289.75" y="384.4" font-size="5.6" fill="#222" stroke="#222" stroke-width="0.12">-3</text><path d="M311.2 378V380" stroke="#555" stroke-width="1"/><text x="313.1" y="387.7" font-size="7.7" fill="#222" stroke="#222" stroke-width="0.2" text-anchor="end">10</text><text x="314.1" y="384.4" font-size="5.6" fill="#222" stroke="#222" stroke-width="0.12">-2</text><path d="M335.55 378V380" stroke="#555" stroke-width="1"/><text x="337.45" y="387.7" font-size="7.7" fill="#222" stroke="#222" stroke-width="0.2" text-anchor="end">10</text><text x="338.45" y="384.4" font-size="5.6" fill="#222" stroke="#222" stroke-width="0.12">-1</text><path d="M359.9 378V380" stroke="#555" stroke-width="1"/><text x="361.8" y="387.7" font-size="7.7" fill="#222" stroke="#222" stroke-width="0.2" text-anchor="end">10</text><text x="362.8" y="384.4" font-size="5.6" fill="#222" stroke="#222" stroke-width="0.12">0</text><path d="M384.25 378V380" stroke="#555" stroke-width="1"/><text x="386.15" y="387.7" font-size="7.7" fill="#222" stroke="#222" stroke-width="0.2" text-anchor="end">10</text><text x="387.15" y="384.4" font-size="5.6" fill="#222" stroke="#222" stroke-width="0.12">1</text><path d="M408.6 378V380" stroke="#555" stroke-width="1"/><text x="410.5" y="387.7" font-size="7.7" fill="#222" stroke="#222" stroke-width="0.2" text-anchor="end">10</text><text x="411.5" y="384.4" font-size="5.6" fill="#222" stroke="#222" stroke-width="0.12">2</text><text x="334.5" y="395.5" font-size="8.3" text-anchor="middle" fill="#111" stroke="#111" stroke-width="0.1" font-weight="normal" >Iso [&#181; M]</text><text transform="translate(234.2 329.7) rotate(-90)" font-size="8.2" text-anchor="middle" fill="#2a2a2a">normalized</text><text transform="translate(244.4 329.7) rotate(-90)" font-size="8.2" text-anchor="middle" fill="#2a2a2a">&#916; net BRET change (%)</text><path d="M264.1 296.5H408.6" stroke="#555" stroke-width="1" stroke-dasharray="1 1.1"/><path d="M286.85 360.27L287.66 360.03L288.47 359.78L289.29 359.52L290.1 359.24L290.91 358.94L291.72 358.63L292.53 358.3L293.34 357.95L294.15 357.59L294.97 357.2L295.78 356.79L296.59 356.36L297.4 355.91L298.21 355.43L299.02 354.93L299.84 354.41L300.65 353.86L301.46 353.28L302.27 352.68L303.08 352.05L303.89 351.4L304.71 350.72L305.52 350L306.33 349.26L307.14 348.5L307.95 347.7L308.76 346.87L309.58 346.02L310.39 345.14L311.2 344.24L312.01 343.31L312.82 342.35L313.63 341.37L314.45 340.36L315.26 339.34L316.07 338.29L316.88 337.23L317.69 336.15L318.5 335.06L319.32 333.96L320.13 332.84L320.94 331.72L321.75 330.59L322.56 329.46L323.38 328.33L324.19 327.2L325 326.07L325.81 324.95L326.62 323.84L327.43 322.74L328.25 321.65L329.06 320.58L329.87 319.52L330.68 318.48L331.49 317.47L332.3 316.47L333.12 315.5L333.93 314.55L334.74 313.63L335.55 312.73L336.36 311.87L337.17 311.02L337.99 310.21L338.8 309.42L339.61 308.67L340.42 307.94L341.23 307.24L342.04 306.56L342.86 305.92L343.67 305.3L344.48 304.71L345.29 304.14L346.1 303.6L346.91 303.09L347.73 302.6L348.54 302.13L349.35 301.69L350.16 301.27L350.97 300.87L351.78 300.49L352.6 300.13L353.41 299.79L354.22 299.46L355.03 299.16L355.84 298.87L356.65 298.6L357.47 298.34L358.28 298.09L359.09 297.86L359.9 297.65L360.71 297.44L361.52 297.25L362.33 297.07L363.15 296.9L363.96 296.73L364.77 296.58L365.58 296.44L366.39 296.3L367.2 296.18L368.02 296.06L368.83 295.95L369.64 295.84L370.45 295.74L371.26 295.65L372.07 295.56L372.89 295.48L373.7 295.4L374.51 295.33L375.32 295.26L376.13 295.2L376.94 295.14L377.76 295.08L378.57 295.03L379.38 294.98L380.19 294.93L381 294.89L381.81 294.85L382.63 294.81L383.44 294.77L384.25 294.74" fill="none" stroke="#f0893a" stroke-width="1.45"/><path d="M286.85 360V362.6M285.35 360H288.35M285.35 362.6H288.35" stroke="#f0893a" stroke-width="0.8" fill="none"/><path d="M311.2 340.56V345.75M309.7 340.56H312.7M309.7 345.75H312.7" stroke="#f0893a" stroke-width="0.8" fill="none"/><path d="M323.38 324.36V337.32M321.88 324.36H324.88M321.88 337.32H324.88" stroke="#f0893a" stroke-width="0.8" fill="none"/><path d="M335.55 310.11V315.29M334.05 310.11H337.05M334.05 315.29H337.05" stroke="#f0893a" stroke-width="0.8" fill="none"/><path d="M347.73 291.25V302.14M346.23 291.25H349.23M346.23 302.14H349.23" stroke="#f0893a" stroke-width="0.8" fill="none"/><path d="M359.9 294.04V301.55M358.4 294.04H361.4M358.4 301.55H361.4" stroke="#f0893a" stroke-width="0.8" fill="none"/><path d="M384.25 292.22V300.78M382.75 292.22H385.75M382.75 300.78H385.75" stroke="#f0893a" stroke-width="0.8" fill="none"/><rect x="285.25" y="359.7" width="3.2" height="3.2" fill="#fff" stroke="#f0893a" stroke-width="1.1"/><rect x="309.6" y="341.56" width="3.2" height="3.2" fill="#fff" stroke="#f0893a" stroke-width="1.1"/><rect x="321.77" y="329.24" width="3.2" height="3.2" fill="#fff" stroke="#f0893a" stroke-width="1.1"/><rect x="333.95" y="311.1" width="3.2" height="3.2" fill="#fff" stroke="#f0893a" stroke-width="1.1"/><rect x="346.12" y="295.09" width="3.2" height="3.2" fill="#fff" stroke="#f0893a" stroke-width="1.1"/><rect x="358.3" y="296.2" width="3.2" height="3.2" fill="#fff" stroke="#f0893a" stroke-width="1.1"/><rect x="382.65" y="294.9" width="3.2" height="3.2" fill="#fff" stroke="#f0893a" stroke-width="1.1"/><path d="M286.85 361.59L287.66 361.52L288.47 361.44L289.29 361.36L290.1 361.28L290.91 361.18L291.72 361.08L292.53 360.98L293.34 360.86L294.15 360.74L294.97 360.6L295.78 360.46L296.59 360.31L297.4 360.14L298.21 359.97L299.02 359.78L299.84 359.57L300.65 359.36L301.46 359.12L302.27 358.87L303.08 358.61L303.89 358.32L304.71 358.02L305.52 357.7L306.33 357.35L307.14 356.99L307.95 356.6L308.76 356.18L309.58 355.74L310.39 355.28L311.2 354.79L312.01 354.27L312.82 353.72L313.63 353.14L314.45 352.53L315.26 351.89L316.07 351.22L316.88 350.52L317.69 349.79L318.5 349.03L319.32 348.24L320.13 347.42L320.94 346.57L321.75 345.69L322.56 344.78L323.38 343.86L324.19 342.9L325 341.93L325.81 340.94L326.62 339.93L327.43 338.91L328.25 337.88L329.06 336.84L329.87 335.79L330.68 334.74L331.49 333.7L332.3 332.66L333.12 331.62L333.93 330.6L334.74 329.59L335.55 328.59L336.36 327.62L337.17 326.66L337.99 325.72L338.8 324.81L339.61 323.93L340.42 323.07L341.23 322.25L342.04 321.45L342.86 320.68L343.67 319.94L344.48 319.23L345.29 318.56L346.1 317.91L346.91 317.3L347.73 316.71L348.54 316.16L349.35 315.63L350.16 315.13L350.97 314.66L351.78 314.22L352.6 313.8L353.41 313.4L354.22 313.03L355.03 312.68L355.84 312.35L356.65 312.05L357.47 311.76L358.28 311.49L359.09 311.24L359.9 311L360.71 310.78L361.52 310.57L362.33 310.38L363.15 310.2L363.96 310.03L364.77 309.88L365.58 309.73L366.39 309.6L367.2 309.47L368.02 309.35L368.83 309.25L369.64 309.14L370.45 309.05L371.26 308.96L372.07 308.88L372.89 308.81L373.7 308.74L374.51 308.67L375.32 308.61L376.13 308.55L376.94 308.5L377.76 308.45L378.57 308.41L379.38 308.37L380.19 308.33L381 308.29L381.81 308.26L382.63 308.23L383.44 308.2L384.25 308.17" fill="none" stroke="#7fb2e0" stroke-width="1.45"/><path d="M286.85 360V362.6M285.35 360H288.35M285.35 362.6H288.35" stroke="#7fb2e0" stroke-width="0.8" fill="none"/><path d="M311.2 353.52V357.41M309.7 353.52H312.7M309.7 357.41H312.7" stroke="#7fb2e0" stroke-width="0.8" fill="none"/><path d="M323.38 341.6V346.78M321.88 341.6H324.88M321.88 346.78H324.88" stroke="#7fb2e0" stroke-width="0.8" fill="none"/><path d="M335.55 322.1V333.76M334.05 322.1H337.05M334.05 333.76H337.05" stroke="#7fb2e0" stroke-width="0.8" fill="none"/><path d="M347.73 314.13V316.72M346.23 314.13H349.23M346.23 316.72H349.23" stroke="#7fb2e0" stroke-width="0.8" fill="none"/><path d="M359.9 306.93V313.41M358.4 306.93H361.4M358.4 313.41H361.4" stroke="#7fb2e0" stroke-width="0.8" fill="none"/><path d="M384.25 304.08V310.56M382.75 304.08H385.75M382.75 310.56H385.75" stroke="#7fb2e0" stroke-width="0.8" fill="none"/><path d="M286.85 363.4L288.95 359.62L284.75 359.62Z" fill="#fff" stroke="#7fb2e0" stroke-width="1.1"/><path d="M311.2 357.57L313.3 353.79L309.1 353.79Z" fill="#fff" stroke="#7fb2e0" stroke-width="1.1"/><path d="M323.38 346.29L325.48 342.51L321.27 342.51Z" fill="#fff" stroke="#7fb2e0" stroke-width="1.1"/><path d="M335.55 330.03L337.65 326.25L333.45 326.25Z" fill="#fff" stroke="#7fb2e0" stroke-width="1.1"/><path d="M347.73 317.52L349.83 313.74L345.62 313.74Z" fill="#fff" stroke="#7fb2e0" stroke-width="1.1"/><path d="M359.9 312.27L362 308.49L357.8 308.49Z" fill="#fff" stroke="#7fb2e0" stroke-width="1.1"/><path d="M384.25 309.42L386.35 305.64L382.15 305.64Z" fill="#fff" stroke="#7fb2e0" stroke-width="1.1"/><path d="M286.85 361.34L287.66 361.29L288.47 361.25L289.29 361.19L290.1 361.14L290.91 361.08L291.72 361.01L292.53 360.95L293.34 360.87L294.15 360.8L294.97 360.71L295.78 360.63L296.59 360.53L297.4 360.43L298.21 360.33L299.02 360.22L299.84 360.1L300.65 359.97L301.46 359.84L302.27 359.7L303.08 359.55L303.89 359.4L304.71 359.23L305.52 359.06L306.33 358.88L307.14 358.7L307.95 358.5L308.76 358.3L309.58 358.08L310.39 357.86L311.2 357.64L312.01 357.4L312.82 357.16L313.63 356.91L314.45 356.66L315.26 356.4L316.07 356.13L316.88 355.86L317.69 355.59L318.5 355.31L319.32 355.03L320.13 354.75L320.94 354.46L321.75 354.18L322.56 353.9L323.38 353.62L324.19 353.34L325 353.07L325.81 352.79L326.62 352.53L327.43 352.26L328.25 352.01L329.06 351.76L329.87 351.51L330.68 351.28L331.49 351.05L332.3 350.82L333.12 350.61L333.93 350.4L334.74 350.21L335.55 350.02L336.36 349.83L337.17 349.66L337.99 349.49L338.8 349.34L339.61 349.19L340.42 349.04L341.23 348.91L342.04 348.78L342.86 348.66L343.67 348.55L344.48 348.44L345.29 348.34L346.1 348.24L346.91 348.15L347.73 348.07L348.54 347.99L349.35 347.92L350.16 347.85L350.97 347.78L351.78 347.72L352.6 347.67L353.41 347.61L354.22 347.56L355.03 347.52L355.84 347.47L356.65 347.43L357.47 347.4L358.28 347.36L359.09 347.33L359.9 347.3L360.71 347.27L361.52 347.24L362.33 347.22L363.15 347.19L363.96 347.17L364.77 347.15L365.58 347.14L366.39 347.12L367.2 347.1L368.02 347.09L368.83 347.07L369.64 347.06L370.45 347.05L371.26 347.04L372.07 347.03L372.89 347.02L373.7 347.01L374.51 347L375.32 346.99L376.13 346.99L376.94 346.98L377.76 346.97L378.57 346.97L379.38 346.96L380.19 346.96L381 346.95L381.81 346.95L382.63 346.95L383.44 346.94L384.25 346.94" fill="none" stroke="#111" stroke-width="1.45"/><path d="M286.85 360V362.6M285.35 360H288.35M285.35 362.6H288.35" stroke="#111" stroke-width="0.8" fill="none"/><path d="M311.2 354.88V360.72M309.7 354.88H312.7M309.7 360.72H312.7" stroke="#111" stroke-width="0.8" fill="none"/><path d="M323.38 348.47V358.19M321.88 348.47H324.88M321.88 358.19H324.88" stroke="#111" stroke-width="0.8" fill="none"/><path d="M335.55 348.79V359.16M334.05 348.79H337.05M334.05 359.16H337.05" stroke="#111" stroke-width="0.8" fill="none"/><path d="M347.73 343.54V351.71M346.23 343.54H349.23M346.23 351.71H349.23" stroke="#111" stroke-width="0.8" fill="none"/><path d="M359.9 341.73V351.45M358.4 341.73H361.4M358.4 351.45H361.4" stroke="#111" stroke-width="0.8" fill="none"/><path d="M384.25 343.16V350.93M382.75 343.16H385.75M382.75 350.93H385.75" stroke="#111" stroke-width="0.8" fill="none"/><circle cx="286.85" cy="361.3" r="1.75" fill="#111"/><circle cx="311.2" cy="357.8" r="1.75" fill="#111"/><circle cx="323.38" cy="353.33" r="1.75" fill="#111"/><circle cx="335.55" cy="353.98" r="1.75" fill="#111"/><circle cx="347.73" cy="347.63" r="1.75" fill="#111"/><circle cx="359.9" cy="346.59" r="1.75" fill="#111"/><circle cx="384.25" cy="347.04" r="1.75" fill="#111"/><path d="M238 272.4H249" stroke="#111" stroke-width="1.4"/><circle cx="243.5" cy="272.4" r="2.19" fill="#111"/><text x="252.3" y="275.5" font-size="8.6" text-anchor="start" fill="#111" stroke="#111" stroke-width="0.1" font-weight="normal" >EV</text><path d="M269.6 272.4H280.6" stroke="#f0893a" stroke-width="1.4"/><rect x="273.1" y="270.4" width="4" height="4" fill="#fff" stroke="#f0893a" stroke-width="1.1"/><text x="283.9" y="275.5" font-size="8.6" text-anchor="start" fill="#111" stroke="#111" stroke-width="0.1" font-weight="normal" >GRK2-CAAX</text><path d="M339.2 272.4H350.2" stroke="#7fb2e0" stroke-width="1.4"/><path d="M344.7 275.02L347.32 270.3L342.07 270.3Z" fill="#fff" stroke="#7fb2e0" stroke-width="1.1"/><text x="353.5" y="275.5" font-size="8.6" text-anchor="start" fill="#111" stroke="#111" stroke-width="0.1" font-weight="normal" >GRK2-R587Q-CAAX</text><text x="0.2" y="414.6" font-size="11" text-anchor="start" fill="#111" stroke="#111" stroke-width="0.1" font-weight="normal" >f</text><path d="M39.5 414.3V512H185.6" fill="none" stroke="#555" stroke-width="1.1"/><path d="M37.5 414.3H39.5" stroke="#555" stroke-width="1"/><path d="M37.5 430.5H39.5" stroke="#555" stroke-width="1"/><path d="M37.5 446.7H39.5" stroke="#555" stroke-width="1"/><path d="M37.5 462.9H39.5" stroke="#555" stroke-width="1"/><path d="M37.5 479.1H39.5" stroke="#555" stroke-width="1"/><path d="M37.5 495.3H39.5" stroke="#555" stroke-width="1"/><text x="36.1" y="433.4" font-size="8.1" text-anchor="end" fill="#222" stroke="#222" stroke-width="0.15" font-weight="normal" >100</text><text x="36.1" y="465.8" font-size="8.1" text-anchor="end" fill="#222" stroke="#222" stroke-width="0.15" font-weight="normal" >50</text><text x="36.1" y="498.2" font-size="8.1" text-anchor="end" fill="#222" stroke="#222" stroke-width="0.15" font-weight="normal" >0</text><path d="M39.5 512V514" stroke="#555" stroke-width="1"/><text x="41.4" y="521.7" font-size="7.7" fill="#222" stroke="#222" stroke-width="0.2" text-anchor="end">10</text><text x="42.4" y="518.4" font-size="5.6" fill="#222" stroke="#222" stroke-width="0.12">-4</text><path d="M63.85 512V514" stroke="#555" stroke-width="1"/><text x="65.75" y="521.7" font-size="7.7" fill="#222" stroke="#222" stroke-width="0.2" text-anchor="end">10</text><text x="66.75" y="518.4" font-size="5.6" fill="#222" stroke="#222" stroke-width="0.12">-3</text><path d="M88.2 512V514" stroke="#555" stroke-width="1"/><text x="90.1" y="521.7" font-size="7.7" fill="#222" stroke="#222" stroke-width="0.2" text-anchor="end">10</text><text x="91.1" y="518.4" font-size="5.6" fill="#222" stroke="#222" stroke-width="0.12">-2</text><path d="M112.55 512V514" stroke="#555" stroke-width="1"/><text x="114.45" y="521.7" font-size="7.7" fill="#222" stroke="#222" stroke-width="0.2" text-anchor="end">10</text><text x="115.45" y="518.4" font-size="5.6" fill="#222" stroke="#222" stroke-width="0.12">-1</text><path d="M136.9 512V514" stroke="#555" stroke-width="1"/><text x="138.8" y="521.7" font-size="7.7" fill="#222" stroke="#222" stroke-width="0.2" text-anchor="end">10</text><text x="139.8" y="518.4" font-size="5.6" fill="#222" stroke="#222" stroke-width="0.12">0</text><path d="M161.25 512V514" stroke="#555" stroke-width="1"/><text x="163.15" y="521.7" font-size="7.7" fill="#222" stroke="#222" stroke-width="0.2" text-anchor="end">10</text><text x="164.15" y="518.4" font-size="5.6" fill="#222" stroke="#222" stroke-width="0.12">1</text><path d="M185.6 512V514" stroke="#555" stroke-width="1"/><text x="187.5" y="521.7" font-size="7.7" fill="#222" stroke="#222" stroke-width="0.2" text-anchor="end">10</text><text x="188.5" y="518.4" font-size="5.6" fill="#222" stroke="#222" stroke-width="0.12">2</text><text x="111.5" y="529.5" font-size="8.3" text-anchor="middle" fill="#111" stroke="#111" stroke-width="0.1" font-weight="normal" >Iso [&#181; M]</text><text transform="translate(11.2 463.7) rotate(-90)" font-size="8.2" text-anchor="middle" fill="#2a2a2a">normalized</text><text transform="translate(20.4 463.7) rotate(-90)" font-size="8.2" text-anchor="middle" fill="#2a2a2a">&#916; net BRET change (%)</text><path d="M41.1 430.5H185.6" stroke="#555" stroke-width="1" stroke-dasharray="1 1.1"/><path d="M63.85 494.47L64.66 494.37L65.47 494.26L66.28 494.15L67.1 494.02L67.91 493.89L68.72 493.74L69.53 493.59L70.34 493.42L71.16 493.24L71.97 493.04L72.78 492.83L73.59 492.61L74.4 492.36L75.21 492.1L76.03 491.83L76.84 491.53L77.65 491.21L78.46 490.87L79.27 490.5L80.08 490.11L80.9 489.69L81.71 489.25L82.52 488.77L83.33 488.27L84.14 487.73L84.95 487.17L85.77 486.56L86.58 485.93L87.39 485.26L88.2 484.55L89.01 483.8L89.82 483.02L90.64 482.19L91.45 481.33L92.26 480.43L93.07 479.49L93.88 478.52L94.69 477.51L95.5 476.46L96.32 475.38L97.13 474.27L97.94 473.13L98.75 471.96L99.56 470.77L100.38 469.55L101.19 468.32L102 467.08L102.81 465.82L103.62 464.56L104.43 463.29L105.25 462.03L106.06 460.77L106.87 459.52L107.68 458.28L108.49 457.06L109.3 455.85L110.11 454.67L110.93 453.52L111.74 452.39L112.55 451.3L113.36 450.24L114.17 449.21L114.99 448.21L115.8 447.26L116.61 446.34L117.42 445.46L118.23 444.62L119.04 443.82L119.86 443.05L120.67 442.33L121.48 441.64L122.29 440.98L123.1 440.36L123.91 439.78L124.73 439.23L125.54 438.71L126.35 438.22L127.16 437.76L127.97 437.33L128.78 436.93L129.6 436.55L130.41 436.2L131.22 435.87L132.03 435.56L132.84 435.27L133.65 435L134.47 434.75L135.28 434.52L136.09 434.3L136.9 434.1L137.71 433.91L138.52 433.74L139.33 433.58L140.15 433.43L140.96 433.29L141.77 433.16L142.58 433.04L143.39 432.92L144.2 432.82L145.02 432.72L145.83 432.64L146.64 432.55L147.45 432.48L148.26 432.41L149.07 432.34L149.89 432.28L150.7 432.22L151.51 432.17L152.32 432.12L153.13 432.08L153.94 432.04L154.76 432L155.57 431.96L156.38 431.93L157.19 431.9L158 431.87L158.81 431.85L159.63 431.82L160.44 431.8L161.25 431.78" fill="none" stroke="#e8353a" stroke-width="1.45"/><path d="M63.85 491.41V497.89M62.35 491.41H65.35M62.35 497.89H65.35" stroke="#e8353a" stroke-width="0.8" fill="none"/><path d="M88.2 482.53V489.01M86.7 482.53H89.7M86.7 489.01H89.7" stroke="#e8353a" stroke-width="0.8" fill="none"/><path d="M100.38 462.51V470.29M98.88 462.51H101.88M98.88 470.29H101.88" stroke="#e8353a" stroke-width="0.8" fill="none"/><path d="M112.55 450V455.19M111.05 450H114.05M111.05 455.19H114.05" stroke="#e8353a" stroke-width="0.8" fill="none"/><path d="M124.73 431.8V439.57M123.23 431.8H126.23M123.23 439.57H126.23" stroke="#e8353a" stroke-width="0.8" fill="none"/><path d="M136.9 436.72V439.31M135.4 436.72H138.4M135.4 439.31H138.4" stroke="#e8353a" stroke-width="0.8" fill="none"/><path d="M161.25 426.61V433.09M159.75 426.61H162.75M159.75 433.09H162.75" stroke="#e8353a" stroke-width="0.8" fill="none"/><rect x="62.25" y="493.05" width="3.2" height="3.2" fill="#e8353a"/><rect x="86.6" y="484.17" width="3.2" height="3.2" fill="#e8353a"/><rect x="98.78" y="464.8" width="3.2" height="3.2" fill="#e8353a"/><rect x="110.95" y="451" width="3.2" height="3.2" fill="#e8353a"/><rect x="123.13" y="434.08" width="3.2" height="3.2" fill="#e8353a"/><rect x="135.3" y="436.42" width="3.2" height="3.2" fill="#e8353a"/><rect x="159.65" y="428.25" width="3.2" height="3.2" fill="#e8353a"/><path d="M63.85 495.29L64.66 495.26L65.47 495.23L66.28 495.2L67.1 495.17L67.91 495.13L68.72 495.09L69.53 495.04L70.34 494.99L71.16 494.94L71.97 494.89L72.78 494.83L73.59 494.77L74.4 494.7L75.21 494.63L76.03 494.55L76.84 494.47L77.65 494.38L78.46 494.28L79.27 494.18L80.08 494.07L80.9 493.95L81.71 493.83L82.52 493.7L83.33 493.55L84.14 493.41L84.95 493.25L85.77 493.08L86.58 492.9L87.39 492.71L88.2 492.51L89.01 492.3L89.82 492.08L90.64 491.85L91.45 491.61L92.26 491.35L93.07 491.08L93.88 490.81L94.69 490.52L95.5 490.22L96.32 489.91L97.13 489.59L97.94 489.26L98.75 488.92L99.56 488.57L100.38 488.22L101.19 487.86L102 487.49L102.81 487.12L103.62 486.74L104.43 486.37L105.25 485.99L106.06 485.61L106.87 485.23L107.68 484.85L108.49 484.47L109.3 484.1L110.11 483.74L110.93 483.38L111.74 483.03L112.55 482.68L113.36 482.35L114.17 482.02L114.99 481.7L115.8 481.39L116.61 481.1L117.42 480.81L118.23 480.54L119.04 480.28L119.86 480.02L120.67 479.78L121.48 479.55L122.29 479.34L123.1 479.13L123.91 478.93L124.73 478.75L125.54 478.57L126.35 478.41L127.16 478.25L127.97 478.1L128.78 477.96L129.6 477.83L130.41 477.71L131.22 477.6L132.03 477.49L132.84 477.39L133.65 477.3L134.47 477.21L135.28 477.13L136.09 477.05L136.9 476.98L137.71 476.91L138.52 476.85L139.33 476.79L140.15 476.74L140.96 476.69L141.77 476.64L142.58 476.6L143.39 476.56L144.2 476.52L145.02 476.49L145.83 476.46L146.64 476.43L147.45 476.4L148.26 476.37L149.07 476.35L149.89 476.33L150.7 476.31L151.51 476.29L152.32 476.27L153.13 476.25L153.94 476.24L154.76 476.22L155.57 476.21L156.38 476.2L157.19 476.19L158 476.18L158.81 476.17L159.63 476.16L160.44 476.15L161.25 476.14" fill="none" stroke="#7c55b5" stroke-width="1.45"/><path d="M63.85 494V496.6M62.35 494H65.35M62.35 496.6H65.35" stroke="#7c55b5" stroke-width="0.8" fill="none"/><path d="M88.2 486.68V490.57M86.7 486.68H89.7M86.7 490.57H89.7" stroke="#7c55b5" stroke-width="0.8" fill="none"/><path d="M100.38 487.07V490.96M98.88 487.07H101.88M98.88 490.96H101.88" stroke="#7c55b5" stroke-width="0.8" fill="none"/><path d="M112.55 480.2V485.39M111.05 480.2H114.05M111.05 485.39H114.05" stroke="#7c55b5" stroke-width="0.8" fill="none"/><path d="M124.73 475.41V480.59M123.23 475.41H126.23M123.23 480.59H126.23" stroke="#7c55b5" stroke-width="0.8" fill="none"/><path d="M136.9 474.76V478.65M135.4 474.76H138.4M135.4 478.65H138.4" stroke="#7c55b5" stroke-width="0.8" fill="none"/><path d="M161.25 474.43V477.03M159.75 474.43H162.75M159.75 477.03H162.75" stroke="#7c55b5" stroke-width="0.8" fill="none"/><path d="M63.85 493.1L66.05 495.3L63.85 497.5L61.65 495.3Z" fill="#7c55b5"/><path d="M88.2 486.43L90.4 488.63L88.2 490.83L86 488.63Z" fill="#7c55b5"/><path d="M100.38 486.81L102.58 489.01L100.38 491.21L98.17 489.01Z" fill="#7c55b5"/><path d="M112.55 480.59L114.75 482.79L112.55 484.99L110.35 482.79Z" fill="#7c55b5"/><path d="M124.73 475.8L126.93 478L124.73 480.2L122.53 478Z" fill="#7c55b5"/><path d="M136.9 474.5L139.1 476.7L136.9 478.9L134.7 476.7Z" fill="#7c55b5"/><path d="M161.25 473.53L163.45 475.73L161.25 477.93L159.05 475.73Z" fill="#7c55b5"/><path d="M63.85 495.34L64.66 495.29L65.47 495.25L66.28 495.19L67.1 495.14L67.91 495.08L68.72 495.01L69.53 494.95L70.34 494.87L71.16 494.8L71.97 494.71L72.78 494.63L73.59 494.53L74.4 494.43L75.21 494.33L76.03 494.22L76.84 494.1L77.65 493.97L78.46 493.84L79.27 493.7L80.08 493.55L80.9 493.4L81.71 493.23L82.52 493.06L83.33 492.88L84.14 492.7L84.95 492.5L85.77 492.3L86.58 492.08L87.39 491.86L88.2 491.64L89.01 491.4L89.82 491.16L90.64 490.91L91.45 490.66L92.26 490.4L93.07 490.13L93.88 489.86L94.69 489.59L95.5 489.31L96.32 489.03L97.13 488.75L97.94 488.46L98.75 488.18L99.56 487.9L100.38 487.62L101.19 487.34L102 487.07L102.81 486.79L103.62 486.53L104.43 486.26L105.25 486.01L106.06 485.76L106.87 485.51L107.68 485.28L108.49 485.05L109.3 484.82L110.11 484.61L110.93 484.4L111.74 484.21L112.55 484.02L113.36 483.83L114.17 483.66L114.99 483.49L115.8 483.34L116.61 483.19L117.42 483.04L118.23 482.91L119.04 482.78L119.86 482.66L120.67 482.55L121.48 482.44L122.29 482.34L123.1 482.24L123.91 482.15L124.73 482.07L125.54 481.99L126.35 481.92L127.16 481.85L127.97 481.78L128.78 481.72L129.6 481.67L130.41 481.61L131.22 481.56L132.03 481.52L132.84 481.47L133.65 481.43L134.47 481.4L135.28 481.36L136.09 481.33L136.9 481.3L137.71 481.27L138.52 481.24L139.33 481.22L140.15 481.19L140.96 481.17L141.77 481.15L142.58 481.14L143.39 481.12L144.2 481.1L145.02 481.09L145.83 481.07L146.64 481.06L147.45 481.05L148.26 481.04L149.07 481.03L149.89 481.02L150.7 481.01L151.51 481L152.32 480.99L153.13 480.99L153.94 480.98L154.76 480.97L155.57 480.97L156.38 480.96L157.19 480.96L158 480.95L158.81 480.95L159.63 480.95L160.44 480.94L161.25 480.94" fill="none" stroke="#111" stroke-width="1.45"/><path d="M63.85 494V496.6M62.35 494H65.35M62.35 496.6H65.35" stroke="#111" stroke-width="0.8" fill="none"/><path d="M88.2 488.88V494.72M86.7 488.88H89.7M86.7 494.72H89.7" stroke="#111" stroke-width="0.8" fill="none"/><path d="M100.38 482.47V492.19M98.88 482.47H101.88M98.88 492.19H101.88" stroke="#111" stroke-width="0.8" fill="none"/><path d="M112.55 482.79V493.16M111.05 482.79H114.05M111.05 493.16H114.05" stroke="#111" stroke-width="0.8" fill="none"/><path d="M124.73 477.54V485.71M123.23 477.54H126.23M123.23 485.71H126.23" stroke="#111" stroke-width="0.8" fill="none"/><path d="M136.9 475.73V485.45M135.4 475.73H138.4M135.4 485.45H138.4" stroke="#111" stroke-width="0.8" fill="none"/><path d="M161.25 477.16V484.93M159.75 477.16H162.75M159.75 484.93H162.75" stroke="#111" stroke-width="0.8" fill="none"/><circle cx="63.85" cy="495.3" r="1.75" fill="#111"/><circle cx="88.2" cy="491.8" r="1.75" fill="#111"/><circle cx="100.38" cy="487.33" r="1.75" fill="#111"/><circle cx="112.55" cy="487.98" r="1.75" fill="#111"/><circle cx="124.73" cy="481.63" r="1.75" fill="#111"/><circle cx="136.9" cy="480.59" r="1.75" fill="#111"/><circle cx="161.25" cy="481.04" r="1.75" fill="#111"/><path d="M14.5 410.8H25.5" stroke="#111" stroke-width="1.4"/><circle cx="20" cy="410.8" r="2.19" fill="#111"/><text x="28.8" y="413.9" font-size="8.6" text-anchor="start" fill="#111" stroke="#111" stroke-width="0.1" font-weight="normal" >EV</text><path d="M46 410.8H57" stroke="#e8353a" stroke-width="1.4"/><rect x="49.5" y="408.8" width="4" height="4" fill="#e8353a"/><text x="60.3" y="413.9" font-size="8.6" text-anchor="start" fill="#111" stroke="#111" stroke-width="0.1" font-weight="normal" >GRK2</text><path d="M89.8 410.8H100.8" stroke="#7c55b5" stroke-width="1.4"/><path d="M95.3 408.05L98.05 410.8L95.3 413.55L92.55 410.8Z" fill="#7c55b5"/><text x="104.1" y="413.9" font-size="8.6" text-anchor="start" fill="#111" stroke="#111" stroke-width="0.1" font-weight="normal" >GRK2-D110A,R587Q</text><text x="221.2" y="414.6" font-size="11" text-anchor="start" fill="#111" stroke="#111" stroke-width="0.1" font-weight="normal" >g</text><path d="M262.5 414.3V512H408.6" fill="none" stroke="#555" stroke-width="1.1"/><path d="M260.5 414.3H262.5" stroke="#555" stroke-width="1"/><path d="M260.5 430.5H262.5" stroke="#555" stroke-width="1"/><path d="M260.5 446.7H262.5" stroke="#555" stroke-width="1"/><path d="M260.5 462.9H262.5" stroke="#555" stroke-width="1"/><path d="M260.5 479.1H262.5" stroke="#555" stroke-width="1"/><path d="M260.5 495.3H262.5" stroke="#555" stroke-width="1"/><text x="259.1" y="433.4" font-size="8.1" text-anchor="end" fill="#222" stroke="#222" stroke-width="0.15" font-weight="normal" >100</text><text x="259.1" y="465.8" font-size="8.1" text-anchor="end" fill="#222" stroke="#222" stroke-width="0.15" font-weight="normal" >50</text><text x="259.1" y="498.2" font-size="8.1" text-anchor="end" fill="#222" stroke="#222" stroke-width="0.15" font-weight="normal" >0</text><path d="M262.5 512V514" stroke="#555" stroke-width="1"/><text x="264.4" y="521.7" font-size="7.7" fill="#222" stroke="#222" stroke-width="0.2" text-anchor="end">10</text><text x="265.4" y="518.4" font-size="5.6" fill="#222" stroke="#222" stroke-width="0.12">-4</text><path d="M286.85 512V514" stroke="#555" stroke-width="1"/><text x="288.75" y="521.7" font-size="7.7" fill="#222" stroke="#222" stroke-width="0.2" text-anchor="end">10</text><text x="289.75" y="518.4" font-size="5.6" fill="#222" stroke="#222" stroke-width="0.12">-3</text><path d="M311.2 512V514" stroke="#555" stroke-width="1"/><text x="313.1" y="521.7" font-size="7.7" fill="#222" stroke="#222" stroke-width="0.2" text-anchor="end">10</text><text x="314.1" y="518.4" font-size="5.6" fill="#222" stroke="#222" stroke-width="0.12">-2</text><path d="M335.55 512V514" stroke="#555" stroke-width="1"/><text x="337.45" y="521.7" font-size="7.7" fill="#222" stroke="#222" stroke-width="0.2" text-anchor="end">10</text><text x="338.45" y="518.4" font-size="5.6" fill="#222" stroke="#222" stroke-width="0.12">-1</text><path d="M359.9 512V514" stroke="#555" stroke-width="1"/><text x="361.8" y="521.7" font-size="7.7" fill="#222" stroke="#222" stroke-width="0.2" text-anchor="end">10</text><text x="362.8" y="518.4" font-size="5.6" fill="#222" stroke="#222" stroke-width="0.12">0</text><path d="M384.25 512V514" stroke="#555" stroke-width="1"/><text x="386.15" y="521.7" font-size="7.7" fill="#222" stroke="#222" stroke-width="0.2" text-anchor="end">10</text><text x="387.15" y="518.4" font-size="5.6" fill="#222" stroke="#222" stroke-width="0.12">1</text><path d="M408.6 512V514" stroke="#555" stroke-width="1"/><text x="410.5" y="521.7" font-size="7.7" fill="#222" stroke="#222" stroke-width="0.2" text-anchor="end">10</text><text x="411.5" y="518.4" font-size="5.6" fill="#222" stroke="#222" stroke-width="0.12">2</text><text x="334.5" y="529.5" font-size="8.3" text-anchor="middle" fill="#111" stroke="#111" stroke-width="0.1" font-weight="normal" >Iso [&#181; M]</text><text transform="translate(234.2 463.7) rotate(-90)" font-size="8.2" text-anchor="middle" fill="#2a2a2a">normalized</text><text transform="translate(244.4 463.7) rotate(-90)" font-size="8.2" text-anchor="middle" fill="#2a2a2a">&#916; net BRET change (%)</text><path d="M264.1 430.5H408.6" stroke="#555" stroke-width="1" stroke-dasharray="1 1.1"/><path d="M286.85 494.27L287.66 494.03L288.47 493.78L289.29 493.52L290.1 493.24L290.91 492.94L291.72 492.63L292.53 492.3L293.34 491.95L294.15 491.59L294.97 491.2L295.78 490.79L296.59 490.36L297.4 489.91L298.21 489.43L299.02 488.93L299.84 488.41L300.65 487.86L301.46 487.28L302.27 486.68L303.08 486.05L303.89 485.4L304.71 484.72L305.52 484L306.33 483.26L307.14 482.5L307.95 481.7L308.76 480.87L309.58 480.02L310.39 479.14L311.2 478.24L312.01 477.31L312.82 476.35L313.63 475.37L314.45 474.36L315.26 473.34L316.07 472.29L316.88 471.23L317.69 470.15L318.5 469.06L319.32 467.96L320.13 466.84L320.94 465.72L321.75 464.59L322.56 463.46L323.38 462.33L324.19 461.2L325 460.07L325.81 458.95L326.62 457.84L327.43 456.74L328.25 455.65L329.06 454.58L329.87 453.52L330.68 452.48L331.49 451.47L332.3 450.47L333.12 449.5L333.93 448.55L334.74 447.63L335.55 446.73L336.36 445.87L337.17 445.02L337.99 444.21L338.8 443.42L339.61 442.67L340.42 441.94L341.23 441.24L342.04 440.56L342.86 439.92L343.67 439.3L344.48 438.71L345.29 438.14L346.1 437.6L346.91 437.09L347.73 436.6L348.54 436.13L349.35 435.69L350.16 435.27L350.97 434.87L351.78 434.49L352.6 434.13L353.41 433.79L354.22 433.46L355.03 433.16L355.84 432.87L356.65 432.6L357.47 432.34L358.28 432.09L359.09 431.86L359.9 431.65L360.71 431.44L361.52 431.25L362.33 431.07L363.15 430.9L363.96 430.73L364.77 430.58L365.58 430.44L366.39 430.3L367.2 430.18L368.02 430.06L368.83 429.95L369.64 429.84L370.45 429.74L371.26 429.65L372.07 429.56L372.89 429.48L373.7 429.4L374.51 429.33L375.32 429.26L376.13 429.2L376.94 429.14L377.76 429.08L378.57 429.03L379.38 428.98L380.19 428.93L381 428.89L381.81 428.85L382.63 428.81L383.44 428.77L384.25 428.74" fill="none" stroke="#f0893a" stroke-width="1.45"/><path d="M286.85 494V496.6M285.35 494H288.35M285.35 496.6H288.35" stroke="#f0893a" stroke-width="0.8" fill="none"/><path d="M311.2 474.56V479.75M309.7 474.56H312.7M309.7 479.75H312.7" stroke="#f0893a" stroke-width="0.8" fill="none"/><path d="M323.38 458.36V471.32M321.88 458.36H324.88M321.88 471.32H324.88" stroke="#f0893a" stroke-width="0.8" fill="none"/><path d="M335.55 444.11V449.29M334.05 444.11H337.05M334.05 449.29H337.05" stroke="#f0893a" stroke-width="0.8" fill="none"/><path d="M347.73 425.25V436.14M346.23 425.25H349.23M346.23 436.14H349.23" stroke="#f0893a" stroke-width="0.8" fill="none"/><path d="M359.9 428.04V435.55M358.4 428.04H361.4M358.4 435.55H361.4" stroke="#f0893a" stroke-width="0.8" fill="none"/><path d="M384.25 426.22V434.78M382.75 426.22H385.75M382.75 434.78H385.75" stroke="#f0893a" stroke-width="0.8" fill="none"/><rect x="285.25" y="493.7" width="3.2" height="3.2" fill="#fff" stroke="#f0893a" stroke-width="1.1"/><rect x="309.6" y="475.56" width="3.2" height="3.2" fill="#fff" stroke="#f0893a" stroke-width="1.1"/><rect x="321.77" y="463.24" width="3.2" height="3.2" fill="#fff" stroke="#f0893a" stroke-width="1.1"/><rect x="333.95" y="445.1" width="3.2" height="3.2" fill="#fff" stroke="#f0893a" stroke-width="1.1"/><rect x="346.12" y="429.09" width="3.2" height="3.2" fill="#fff" stroke="#f0893a" stroke-width="1.1"/><rect x="358.3" y="430.2" width="3.2" height="3.2" fill="#fff" stroke="#f0893a" stroke-width="1.1"/><rect x="382.65" y="428.9" width="3.2" height="3.2" fill="#fff" stroke="#f0893a" stroke-width="1.1"/><path d="M286.85 495.36L287.66 495.27L288.47 495.18L289.29 495.08L290.1 494.98L290.91 494.86L291.72 494.74L292.53 494.62L293.34 494.48L294.15 494.34L294.97 494.18L295.78 494.02L296.59 493.85L297.4 493.66L298.21 493.46L299.02 493.25L299.84 493.03L300.65 492.8L301.46 492.54L302.27 492.28L303.08 492L303.89 491.7L304.71 491.38L305.52 491.05L306.33 490.69L307.14 490.32L307.95 489.93L308.76 489.51L309.58 489.07L310.39 488.61L311.2 488.13L312.01 487.63L312.82 487.09L313.63 486.54L314.45 485.96L315.26 485.35L316.07 484.72L316.88 484.06L317.69 483.38L318.5 482.67L319.32 481.94L320.13 481.18L320.94 480.39L321.75 479.59L322.56 478.76L323.38 477.91L324.19 477.04L325 476.15L325.81 475.24L326.62 474.32L327.43 473.39L328.25 472.44L329.06 471.48L329.87 470.52L330.68 469.55L331.49 468.58L332.3 467.61L333.12 466.64L333.93 465.67L334.74 464.71L335.55 463.75L336.36 462.81L337.17 461.88L337.99 460.97L338.8 460.07L339.61 459.18L340.42 458.32L341.23 457.48L342.04 456.66L342.86 455.86L343.67 455.08L344.48 454.33L345.29 453.61L346.1 452.91L346.91 452.24L347.73 451.59L348.54 450.96L349.35 450.37L350.16 449.8L350.97 449.25L351.78 448.73L352.6 448.23L353.41 447.75L354.22 447.3L355.03 446.87L355.84 446.47L356.65 446.08L357.47 445.71L358.28 445.37L359.09 445.04L359.9 444.73L360.71 444.44L361.52 444.16L362.33 443.9L363.15 443.66L363.96 443.42L364.77 443.21L365.58 443L366.39 442.81L367.2 442.63L368.02 442.46L368.83 442.3L369.64 442.15L370.45 442.01L371.26 441.87L372.07 441.75L372.89 441.63L373.7 441.52L374.51 441.42L375.32 441.33L376.13 441.24L376.94 441.15L377.76 441.07L378.57 441L379.38 440.93L380.19 440.87L381 440.8L381.81 440.75L382.63 440.7L383.44 440.65L384.25 440.6" fill="none" stroke="#7c55b5" stroke-width="1.45"/><path d="M286.85 494V496.6M285.35 494H288.35M285.35 496.6H288.35" stroke="#7c55b5" stroke-width="0.8" fill="none"/><path d="M311.2 484.54V488.43M309.7 484.54H312.7M309.7 488.43H312.7" stroke="#7c55b5" stroke-width="0.8" fill="none"/><path d="M323.38 476.25V480.14M321.88 476.25H324.88M321.88 480.14H324.88" stroke="#7c55b5" stroke-width="0.8" fill="none"/><path d="M335.55 462.06V465.95M334.05 462.06H337.05M334.05 465.95H337.05" stroke="#7c55b5" stroke-width="0.8" fill="none"/><path d="M347.73 448.71V453.89M346.23 448.71H349.23M346.23 453.89H349.23" stroke="#7c55b5" stroke-width="0.8" fill="none"/><path d="M359.9 439.96V446.44M358.4 439.96H361.4M358.4 446.44H361.4" stroke="#7c55b5" stroke-width="0.8" fill="none"/><path d="M384.25 437.63V444.11M382.75 437.63H385.75M382.75 444.11H385.75" stroke="#7c55b5" stroke-width="0.8" fill="none"/><circle cx="286.85" cy="495.3" r="1.6" fill="#fff" stroke="#7c55b5" stroke-width="1.1"/><circle cx="311.2" cy="486.49" r="1.6" fill="#fff" stroke="#7c55b5" stroke-width="1.1"/><circle cx="323.38" cy="478.19" r="1.6" fill="#fff" stroke="#7c55b5" stroke-width="1.1"/><circle cx="335.55" cy="464" r="1.6" fill="#fff" stroke="#7c55b5" stroke-width="1.1"/><circle cx="347.73" cy="451.3" r="1.6" fill="#fff" stroke="#7c55b5" stroke-width="1.1"/><circle cx="359.9" cy="443.2" r="1.6" fill="#fff" stroke="#7c55b5" stroke-width="1.1"/><circle cx="384.25" cy="440.87" r="1.6" fill="#fff" stroke="#7c55b5" stroke-width="1.1"/><path d="M286.85 495.34L287.66 495.29L288.47 495.25L289.29 495.19L290.1 495.14L290.91 495.08L291.72 495.01L292.53 494.95L293.34 494.87L294.15 494.8L294.97 494.71L295.78 494.63L296.59 494.53L297.4 494.43L298.21 494.33L299.02 494.22L299.84 494.1L300.65 493.97L301.46 493.84L302.27 493.7L303.08 493.55L303.89 493.4L304.71 493.23L305.52 493.06L306.33 492.88L307.14 492.7L307.95 492.5L308.76 492.3L309.58 492.08L310.39 491.86L311.2 491.64L312.01 491.4L312.82 491.16L313.63 490.91L314.45 490.66L315.26 490.4L316.07 490.13L316.88 489.86L317.69 489.59L318.5 489.31L319.32 489.03L320.13 488.75L320.94 488.46L321.75 488.18L322.56 487.9L323.38 487.62L324.19 487.34L325 487.07L325.81 486.79L326.62 486.53L327.43 486.26L328.25 486.01L329.06 485.76L329.87 485.51L330.68 485.28L331.49 485.05L332.3 484.82L333.12 484.61L333.93 484.4L334.74 484.21L335.55 484.02L336.36 483.83L337.17 483.66L337.99 483.49L338.8 483.34L339.61 483.19L340.42 483.04L341.23 482.91L342.04 482.78L342.86 482.66L343.67 482.55L344.48 482.44L345.29 482.34L346.1 482.24L346.91 482.15L347.73 482.07L348.54 481.99L349.35 481.92L350.16 481.85L350.97 481.78L351.78 481.72L352.6 481.67L353.41 481.61L354.22 481.56L355.03 481.52L355.84 481.47L356.65 481.43L357.47 481.4L358.28 481.36L359.09 481.33L359.9 481.3L360.71 481.27L361.52 481.24L362.33 481.22L363.15 481.19L363.96 481.17L364.77 481.15L365.58 481.14L366.39 481.12L367.2 481.1L368.02 481.09L368.83 481.07L369.64 481.06L370.45 481.05L371.26 481.04L372.07 481.03L372.89 481.02L373.7 481.01L374.51 481L375.32 480.99L376.13 480.99L376.94 480.98L377.76 480.97L378.57 480.97L379.38 480.96L380.19 480.96L381 480.95L381.81 480.95L382.63 480.95L383.44 480.94L384.25 480.94" fill="none" stroke="#111" stroke-width="1.45"/><path d="M286.85 494V496.6M285.35 494H288.35M285.35 496.6H288.35" stroke="#111" stroke-width="0.8" fill="none"/><path d="M311.2 488.88V494.72M309.7 488.88H312.7M309.7 494.72H312.7" stroke="#111" stroke-width="0.8" fill="none"/><path d="M323.38 482.47V492.19M321.88 482.47H324.88M321.88 492.19H324.88" stroke="#111" stroke-width="0.8" fill="none"/><path d="M335.55 482.79V493.16M334.05 482.79H337.05M334.05 493.16H337.05" stroke="#111" stroke-width="0.8" fill="none"/><path d="M347.73 477.54V485.71M346.23 477.54H349.23M346.23 485.71H349.23" stroke="#111" stroke-width="0.8" fill="none"/><path d="M359.9 475.73V485.45M358.4 475.73H361.4M358.4 485.45H361.4" stroke="#111" stroke-width="0.8" fill="none"/><path d="M384.25 477.16V484.93M382.75 477.16H385.75M382.75 484.93H385.75" stroke="#111" stroke-width="0.8" fill="none"/><circle cx="286.85" cy="495.3" r="1.75" fill="#111"/><circle cx="311.2" cy="491.8" r="1.75" fill="#111"/><circle cx="323.38" cy="487.33" r="1.75" fill="#111"/><circle cx="335.55" cy="487.98" r="1.75" fill="#111"/><circle cx="347.73" cy="481.63" r="1.75" fill="#111"/><circle cx="359.9" cy="480.59" r="1.75" fill="#111"/><circle cx="384.25" cy="481.04" r="1.75" fill="#111"/><path d="M237.8 406.3H248.8" stroke="#111" stroke-width="1.4"/><circle cx="243.3" cy="406.3" r="2.19" fill="#111"/><text x="252.1" y="409.4" font-size="8.6" text-anchor="start" fill="#111" stroke="#111" stroke-width="0.1" font-weight="normal" >EV</text><path d="M269.4 406.3H280.4" stroke="#f0893a" stroke-width="1.4"/><rect x="272.9" y="404.3" width="4" height="4" fill="#fff" stroke="#f0893a" stroke-width="1.1"/><text x="283.7" y="409.4" font-size="8.6" text-anchor="start" fill="#111" stroke="#111" stroke-width="0.1" font-weight="normal" >GRK2-CAAX</text><path d="M339.2 406.3H350.2" stroke="#7c55b5" stroke-width="1.4"/><circle cx="344.7" cy="406.3" r="2" fill="#fff" stroke="#7c55b5" stroke-width="1.1"/><text x="353.5" y="409.4" font-size="8.6" text-anchor="start" fill="#111" stroke="#111" stroke-width="0.1" font-weight="normal" >GRK2-D110A, R587Q-CAAX</text><text x="0.2" y="541.7" font-size="11" text-anchor="start" fill="#111" stroke="#111" stroke-width="0.1" font-weight="normal" >h</text><text transform="translate(8.9 590.2) rotate(-90)" font-size="8.2" text-anchor="middle" fill="#2a2a2a">normalized</text><text transform="translate(18.1 590.2) rotate(-90)" font-size="8.2" text-anchor="middle" fill="#2a2a2a">&#916; net BRET change (%)</text><path d="M59.5 589V542.7H162.3V589M148 589H176.3" fill="none" stroke="#c4c4c4" stroke-width="0.9"/><path d="M59.5 549.3H162.3M102.6 549.3V553M88 553H116.4" fill="none" stroke="#c4c4c4" stroke-width="0.9"/><rect x="50.5" y="627.08" width="18.0" height="16.92" fill="#e1e1e1" stroke="#111" stroke-width="1.45"/><path d="M59.5 627.08V622.21M54.5 622.21H64.5" stroke="#111" stroke-width="1.0"/><circle cx="59.5" cy="616.91" r="1.26" fill="#111"/><circle cx="59.5" cy="622.21" r="1.26" fill="#111"/><circle cx="61.4" cy="632.38" r="1.26" fill="#111"/><circle cx="57.1" cy="636.28" r="1.26" fill="#111"/><rect x="79.7" y="572.65" width="18.0" height="71.35" fill="#e1e1e1" stroke="#eb5353" stroke-width="1.45"/><path d="M88.7 572.65V569.16M83.7 569.16H93.7" stroke="#eb5353" stroke-width="1.0"/><rect x="86.94" y="565.02" width="2.72" height="2.72" fill="#eb5353"/><rect x="88.94" y="572.89" width="2.72" height="2.72" fill="#eb5353"/><rect x="84.94" y="576.52" width="2.72" height="2.72" fill="#eb5353"/><rect x="108.9" y="569.51" width="18.0" height="74.49" fill="#e1e1e1" stroke="#238c50" stroke-width="1.45"/><path d="M117.9 569.51V561.15M112.9 561.15H122.9" stroke="#238c50" stroke-width="1.0"/><path d="M117.9 555.61L119.6 558.67L116.2 558.67Z" fill="#238c50"/><path d="M117.9 566.42L119.6 569.48L116.2 569.48Z" fill="#238c50"/><path d="M117.9 583.49L119.6 586.55L116.2 586.55Z" fill="#238c50"/><rect x="138.1" y="620.74" width="18.0" height="23.26" fill="#e1e1e1" stroke="#288ca5" stroke-width="1.45"/><path d="M147.1 620.74V617.95M142.1 617.95H152.1" stroke="#288ca5" stroke-width="1.0"/><path d="M148.9 616.52L150.6 613.46L147.2 613.46Z" fill="#288ca5"/><path d="M145.3 619.65L147 616.59L143.6 616.59Z" fill="#288ca5"/><path d="M147.1 628.37L148.8 625.31L145.4 625.31Z" fill="#288ca5"/><rect x="167.3" y="620.39" width="18.0" height="23.61" fill="#e1e1e1" stroke="#9072b4" stroke-width="1.45"/><path d="M176.3 620.39V617.61M171.3 617.61H181.3" stroke="#9072b4" stroke-width="1.0"/><path d="M172.9 616.08L174.77 617.95L172.9 619.82L171.03 617.95Z" fill="#9072b4"/><path d="M179.9 614.69L181.77 616.56L179.9 618.43L178.03 616.56Z" fill="#9072b4"/><path d="M176.3 623.4L178.17 625.27L176.3 627.14L174.43 625.27Z" fill="#9072b4"/><path d="M40.5 572.3H185.5" stroke="#555" stroke-width="1" stroke-dasharray="1 1.1"/><rect x="40.5" y="642.6" width="160" height="4" fill="#fff"/><path d="M39.5 537.45V642H195.5" fill="none" stroke="#555" stroke-width="1.1"/><path d="M37.5 537.45H39.5" stroke="#555" stroke-width="1"/><path d="M37.5 554.88H39.5" stroke="#555" stroke-width="1"/><path d="M37.5 572.3H39.5" stroke="#555" stroke-width="1"/><path d="M37.5 589.73H39.5" stroke="#555" stroke-width="1"/><path d="M37.5 607.15H39.5" stroke="#555" stroke-width="1"/><path d="M37.5 624.58H39.5" stroke="#555" stroke-width="1"/><path d="M37.5 642H39.5" stroke="#555" stroke-width="1"/><text x="35.7" y="540.35" font-size="8.1" text-anchor="end" fill="#222" stroke="#222" stroke-width="0.15" font-weight="normal" >150</text><text x="35.7" y="575.2" font-size="8.1" text-anchor="end" fill="#222" stroke="#222" stroke-width="0.15" font-weight="normal" >100</text><text x="35.7" y="610.05" font-size="8.1" text-anchor="end" fill="#222" stroke="#222" stroke-width="0.15" font-weight="normal" >50</text><text x="35.7" y="644.9" font-size="8.1" text-anchor="end" fill="#222" stroke="#222" stroke-width="0.15" font-weight="normal" >0</text><path d="M59.5 642V644" stroke="#555" stroke-width="1"/><text transform="translate(62.1 653.6) rotate(-45)" font-size="8.5" text-anchor="middle" fill="#111" stroke="#111" stroke-width="0.1">EV</text><path d="M88.7 642V644" stroke="#555" stroke-width="1"/><text transform="translate(91.4 653.1) rotate(-45)" font-size="8.5" text-anchor="middle" fill="#111" stroke="#111" stroke-width="0.1">WT</text><path d="M117.9 642V644" stroke="#555" stroke-width="1"/><text transform="translate(121.1 656.4) rotate(-45)" font-size="8.5" text-anchor="middle" fill="#111" stroke="#111" stroke-width="0.1">-D110A</text><path d="M147.1 642V644" stroke="#555" stroke-width="1"/><text transform="translate(150.3 657.4) rotate(-45)" font-size="8.5" text-anchor="middle" fill="#111" stroke="#111" stroke-width="0.1">-R587Q</text><path d="M176.3 642V644" stroke="#555" stroke-width="1"/><text transform="translate(180.5 657.6) rotate(-45)" font-size="8.5" text-anchor="middle" fill="#111" stroke="#111" stroke-width="0.1">-D110A,</text><text transform="translate(186.1 664) rotate(-45)" font-size="8.5" text-anchor="middle" fill="#111" stroke="#111" stroke-width="0.1">R587Q</text><path d="M81.7 673.5H185.3" stroke="#222" stroke-width="1"/><text x="133.5" y="683.6" font-size="8.4" text-anchor="middle" fill="#111" stroke="#111" stroke-width="0.1" font-weight="normal" >GRK2</text><text x="221.6" y="541.7" font-size="11" text-anchor="start" fill="#111" stroke="#111" stroke-width="0.1" font-weight="normal" >i</text><text transform="translate(233.5 590.2) rotate(-90)" font-size="8.2" text-anchor="middle" fill="#2a2a2a">normalized</text><text transform="translate(243.4 590.2) rotate(-90)" font-size="8.2" text-anchor="middle" fill="#2a2a2a">&#916; net BRET change (%)</text><path d="M282 589V542.5H385.1V552.6M370.7 552.8H399.1" fill="none" stroke="#c4c4c4" stroke-width="0.9"/><path d="M282 549.4H326.5V552.6M311.5 552.8H340.8M311.5 558.9H399.1" fill="none" stroke="#c4c4c4" stroke-width="0.9"/><rect x="273.5" y="627.08" width="18.0" height="16.92" fill="#e1e1e1" stroke="#111" stroke-width="1.45"/><path d="M282.5 627.08V622.21M277.5 622.21H287.5" stroke="#111" stroke-width="1.0"/><circle cx="282.5" cy="616.91" r="1.26" fill="#111"/><circle cx="282.5" cy="622.21" r="1.26" fill="#111"/><circle cx="284.4" cy="632.38" r="1.26" fill="#111"/><circle cx="280.1" cy="636.28" r="1.26" fill="#111"/><rect x="302.7" y="572.65" width="18.0" height="71.35" fill="#e1e1e1" stroke="#f0a060" stroke-width="1.45"/><path d="M311.7 572.65V568.12M306.7 568.12H316.7" stroke="#f0a060" stroke-width="1.0"/><rect x="308.45" y="563.38" width="2.5" height="2.5" fill="#fff" stroke="#f0a060" stroke-width="1.25"/><rect x="312.35" y="564.43" width="2.5" height="2.5" fill="#fff" stroke="#f0a060" stroke-width="1.25"/><rect x="308.45" y="579.76" width="2.5" height="2.5" fill="#fff" stroke="#f0a060" stroke-width="1.25"/><rect x="312.35" y="578.02" width="2.5" height="2.5" fill="#fff" stroke="#f0a060" stroke-width="1.25"/><rect x="331.9" y="574.74" width="18.0" height="69.26" fill="#e1e1e1" stroke="#6ac398" stroke-width="1.45"/><path d="M340.9 574.74V571.95M335.9 571.95H345.9" stroke="#6ac398" stroke-width="1.0"/><path d="M339.2 566.69L340.84 569.64L337.56 569.64Z" fill="#fff" stroke="#6ac398" stroke-width="1.25"/><path d="M343.5 568.43L345.14 571.38L341.86 571.38Z" fill="#fff" stroke="#6ac398" stroke-width="1.25"/><path d="M343.5 577.07L345.14 580.02L341.86 580.02Z" fill="#fff" stroke="#6ac398" stroke-width="1.25"/><path d="M339.2 581.26L340.84 584.2L337.56 584.2Z" fill="#fff" stroke="#6ac398" stroke-width="1.25"/><rect x="361.1" y="585.19" width="18.0" height="58.81" fill="#e1e1e1" stroke="#94bfe6" stroke-width="1.45"/><path d="M370.1 585.19V579.62M365.1 579.62H375.1" stroke="#94bfe6" stroke-width="1.0"/><path d="M370.1 573.24L371.74 570.29L368.46 570.29Z" fill="#fff" stroke="#94bfe6" stroke-width="1.25"/><path d="M370.1 583L371.74 580.05L368.46 580.05Z" fill="#fff" stroke="#94bfe6" stroke-width="1.25"/><path d="M368.3 595.55L369.94 592.6L366.66 592.6Z" fill="#fff" stroke="#94bfe6" stroke-width="1.25"/><path d="M372.1 594.15L373.74 591.2L370.46 591.2Z" fill="#fff" stroke="#94bfe6" stroke-width="1.25"/><rect x="390.3" y="583.8" width="18.0" height="60.2" fill="#e1e1e1" stroke="#a088c2" stroke-width="1.45"/><path d="M399.3 583.8V576.13M394.3 576.13H404.3" stroke="#a088c2" stroke-width="1.0"/><circle cx="399.3" cy="569.51" r="1.25" fill="#fff" stroke="#a088c2" stroke-width="1.25"/><circle cx="399.3" cy="576.83" r="1.25" fill="#fff" stroke="#a088c2" stroke-width="1.25"/><circle cx="397.5" cy="595.3" r="1.25" fill="#fff" stroke="#a088c2" stroke-width="1.25"/><circle cx="401.7" cy="592.37" r="1.25" fill="#fff" stroke="#a088c2" stroke-width="1.25"/><path d="M263.5 572.3H408.5" stroke="#555" stroke-width="1" stroke-dasharray="1 1.1"/><rect x="263.5" y="642.6" width="160" height="4" fill="#fff"/><path d="M262.5 537.45V642H418.5" fill="none" stroke="#555" stroke-width="1.1"/><path d="M260.5 537.45H262.5" stroke="#555" stroke-width="1"/><path d="M260.5 554.88H262.5" stroke="#555" stroke-width="1"/><path d="M260.5 572.3H262.5" stroke="#555" stroke-width="1"/><path d="M260.5 589.73H262.5" stroke="#555" stroke-width="1"/><path d="M260.5 607.15H262.5" stroke="#555" stroke-width="1"/><path d="M260.5 624.58H262.5" stroke="#555" stroke-width="1"/><path d="M260.5 642H262.5" stroke="#555" stroke-width="1"/><text x="258.7" y="540.35" font-size="8.1" text-anchor="end" fill="#222" stroke="#222" stroke-width="0.15" font-weight="normal" >150</text><text x="258.7" y="575.2" font-size="8.1" text-anchor="end" fill="#222" stroke="#222" stroke-width="0.15" font-weight="normal" >100</text><text x="258.7" y="610.05" font-size="8.1" text-anchor="end" fill="#222" stroke="#222" stroke-width="0.15" font-weight="normal" >50</text><text x="258.7" y="644.9" font-size="8.1" text-anchor="end" fill="#222" stroke="#222" stroke-width="0.15" font-weight="normal" >0</text><path d="M282.5 642V644" stroke="#555" stroke-width="1"/><text transform="translate(285.1 653.6) rotate(-45)" font-size="8.5" text-anchor="middle" fill="#111" stroke="#111" stroke-width="0.1">EV</text><path d="M311.7 642V644" stroke="#555" stroke-width="1"/><text transform="translate(314.4 653.1) rotate(-45)" font-size="8.5" text-anchor="middle" fill="#111" stroke="#111" stroke-width="0.1">WT</text><path d="M340.9 642V644" stroke="#555" stroke-width="1"/><text transform="translate(344.1 656.4) rotate(-45)" font-size="8.5" text-anchor="middle" fill="#111" stroke="#111" stroke-width="0.1">-D110A</text><path d="M370.1 642V644" stroke="#555" stroke-width="1"/><text transform="translate(373.3 657.4) rotate(-45)" font-size="8.5" text-anchor="middle" fill="#111" stroke="#111" stroke-width="0.1">-R587Q</text><path d="M399.3 642V644" stroke="#555" stroke-width="1"/><text transform="translate(403.5 657.6) rotate(-45)" font-size="8.5" text-anchor="middle" fill="#111" stroke="#111" stroke-width="0.1">-D110A,</text><text transform="translate(409.1 664) rotate(-45)" font-size="8.5" text-anchor="middle" fill="#111" stroke="#111" stroke-width="0.1">R587Q</text><path d="M304.7 673.5H408.3" stroke="#222" stroke-width="1"/><text x="356.5" y="683.6" font-size="8.4" text-anchor="middle" fill="#111" stroke="#111" stroke-width="0.1" font-weight="normal" >GRK2-CAAX</text><text x="110.8" y="541.2" font-size="8.2" text-anchor="middle" fill="#333" stroke="#333" stroke-width="0.05" font-weight="normal" >ns</text><text x="80.6" y="552.7" font-size="10.5" text-anchor="middle" fill="#333" stroke="#333" stroke-width="0" font-weight="normal" >****</text><text x="130.8" y="552.7" font-size="10.5" text-anchor="middle" fill="#333" stroke="#333" stroke-width="0" font-weight="normal" >****</text><text x="333.6" y="546.1" font-size="10.5" text-anchor="middle" fill="#333" stroke="#333" stroke-width="0" font-weight="normal" >***</text><text x="304.2" y="552.7" font-size="10.5" text-anchor="middle" fill="#333" stroke="#333" stroke-width="0" font-weight="normal" >****</text><text x="355.8" y="559.2" font-size="8.2" text-anchor="middle" fill="#333" stroke="#333" stroke-width="0.05" font-weight="normal" >ns</text></svg></body></html>
